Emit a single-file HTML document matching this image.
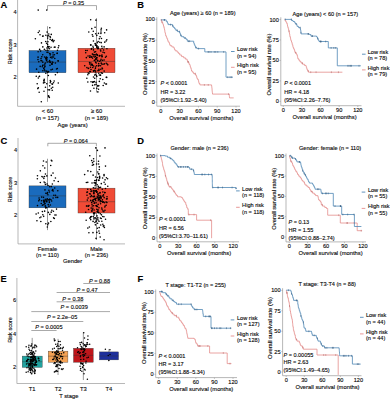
<!DOCTYPE html>
<html><head><meta charset="utf-8"><style>
html,body{margin:0;padding:0;background:#fff;}
svg{display:block;font-family:"Liberation Sans", sans-serif;}
text{stroke:#000;stroke-width:0.12px;}
</style></head><body>
<svg width="391" height="400" viewBox="0 0 391 400">
<rect width="391" height="400" fill="#fff"/>
<text x="0.60" y="7.70" font-size="9.3" text-anchor="start" font-weight="bold" fill="#000">A</text>
<line x1="17.60" y1="0.00" x2="17.60" y2="106.30" stroke="#9a9a9a" stroke-width="0.7"/>
<line x1="17.60" y1="106.30" x2="125.00" y2="106.30" stroke="#9a9a9a" stroke-width="0.7"/>
<text x="16.70" y="14.30" font-size="5.6" text-anchor="end" font-weight="normal" fill="#0a0a0a">4</text>
<line x1="16.80" y1="11.70" x2="17.60" y2="11.70" stroke="#9a9a9a" stroke-width="0.6"/>
<text x="16.70" y="46.60" font-size="5.6" text-anchor="end" font-weight="normal" fill="#0a0a0a">3</text>
<line x1="16.80" y1="44.00" x2="17.60" y2="44.00" stroke="#9a9a9a" stroke-width="0.6"/>
<text x="16.70" y="78.90" font-size="5.6" text-anchor="end" font-weight="normal" fill="#0a0a0a">2</text>
<line x1="16.80" y1="76.30" x2="17.60" y2="76.30" stroke="#9a9a9a" stroke-width="0.6"/>
<text x="12.20" y="51.50" font-size="5.5" text-anchor="middle" font-weight="normal" fill="#0a0a0a" transform="rotate(-90 12.2 51.5)">Risk score</text>
<line x1="47.50" y1="26.24" x2="47.50" y2="101.82" stroke="#333" stroke-width="0.5"/>
<rect x="29.00" y="50.46" width="37.00" height="22.29" fill="#1a6bbd" stroke="#333" stroke-width="0.35"/>
<line x1="29.00" y1="62.09" x2="66.00" y2="62.09" stroke="#333" stroke-width="0.4"/>
<line x1="96.50" y1="18.16" x2="96.50" y2="92.45" stroke="#333" stroke-width="0.5"/>
<rect x="78.00" y="48.20" width="37.00" height="24.55" fill="#f04b36" stroke="#333" stroke-width="0.35"/>
<line x1="78.00" y1="61.44" x2="115.00" y2="61.44" stroke="#333" stroke-width="0.4"/>
<circle cx="45.86" cy="35.32" r="0.8" fill="#000"/>
<circle cx="47.13" cy="32.09" r="0.8" fill="#000"/>
<circle cx="46.89" cy="59.79" r="0.8" fill="#000"/>
<circle cx="39.29" cy="76.43" r="0.8" fill="#000"/>
<circle cx="58.27" cy="82.99" r="0.8" fill="#000"/>
<circle cx="49.61" cy="60.49" r="0.8" fill="#000"/>
<circle cx="50.69" cy="81.59" r="0.8" fill="#000"/>
<circle cx="49.54" cy="89.89" r="0.8" fill="#000"/>
<circle cx="38.06" cy="57.13" r="0.8" fill="#000"/>
<circle cx="46.44" cy="58.45" r="0.8" fill="#000"/>
<circle cx="57.48" cy="50.18" r="0.8" fill="#000"/>
<circle cx="44.20" cy="79.42" r="0.8" fill="#000"/>
<circle cx="58.25" cy="61.02" r="0.8" fill="#000"/>
<circle cx="50.22" cy="62.42" r="0.8" fill="#000"/>
<circle cx="43.99" cy="91.27" r="0.8" fill="#000"/>
<circle cx="45.97" cy="50.35" r="0.8" fill="#000"/>
<circle cx="42.74" cy="54.70" r="0.8" fill="#000"/>
<circle cx="44.57" cy="57.05" r="0.8" fill="#000"/>
<circle cx="44.89" cy="64.02" r="0.8" fill="#000"/>
<circle cx="50.02" cy="36.43" r="0.8" fill="#000"/>
<circle cx="46.45" cy="57.14" r="0.8" fill="#000"/>
<circle cx="41.48" cy="42.91" r="0.8" fill="#000"/>
<circle cx="57.33" cy="68.44" r="0.8" fill="#000"/>
<circle cx="41.78" cy="56.75" r="0.8" fill="#000"/>
<circle cx="54.04" cy="40.61" r="0.8" fill="#000"/>
<circle cx="51.03" cy="47.18" r="0.8" fill="#000"/>
<circle cx="54.77" cy="58.55" r="0.8" fill="#000"/>
<circle cx="53.50" cy="82.79" r="0.8" fill="#000"/>
<circle cx="46.99" cy="52.20" r="0.8" fill="#000"/>
<circle cx="37.98" cy="59.58" r="0.8" fill="#000"/>
<circle cx="49.08" cy="46.69" r="0.8" fill="#000"/>
<circle cx="52.09" cy="56.79" r="0.8" fill="#000"/>
<circle cx="50.17" cy="39.33" r="0.8" fill="#000"/>
<circle cx="42.79" cy="62.15" r="0.8" fill="#000"/>
<circle cx="53.52" cy="57.07" r="0.8" fill="#000"/>
<circle cx="58.25" cy="47.77" r="0.8" fill="#000"/>
<circle cx="43.50" cy="82.88" r="0.8" fill="#000"/>
<circle cx="36.56" cy="69.16" r="0.8" fill="#000"/>
<circle cx="46.73" cy="71.13" r="0.8" fill="#000"/>
<circle cx="55.38" cy="62.98" r="0.8" fill="#000"/>
<circle cx="46.94" cy="48.06" r="0.8" fill="#000"/>
<circle cx="49.54" cy="48.72" r="0.8" fill="#000"/>
<circle cx="44.88" cy="66.74" r="0.8" fill="#000"/>
<circle cx="39.18" cy="92.18" r="0.8" fill="#000"/>
<circle cx="53.31" cy="41.80" r="0.8" fill="#000"/>
<circle cx="52.39" cy="69.27" r="0.8" fill="#000"/>
<circle cx="48.32" cy="46.74" r="0.8" fill="#000"/>
<circle cx="45.46" cy="87.26" r="0.8" fill="#000"/>
<circle cx="44.46" cy="69.89" r="0.8" fill="#000"/>
<circle cx="47.50" cy="35.95" r="0.8" fill="#000"/>
<circle cx="38.30" cy="32.46" r="0.8" fill="#000"/>
<circle cx="52.73" cy="87.20" r="0.8" fill="#000"/>
<circle cx="38.34" cy="87.81" r="0.8" fill="#000"/>
<circle cx="47.31" cy="62.01" r="0.8" fill="#000"/>
<circle cx="47.67" cy="46.54" r="0.8" fill="#000"/>
<circle cx="51.95" cy="57.90" r="0.8" fill="#000"/>
<circle cx="50.10" cy="55.04" r="0.8" fill="#000"/>
<circle cx="44.06" cy="80.92" r="0.8" fill="#000"/>
<circle cx="44.33" cy="49.37" r="0.8" fill="#000"/>
<circle cx="35.37" cy="38.75" r="0.8" fill="#000"/>
<circle cx="51.05" cy="69.84" r="0.8" fill="#000"/>
<circle cx="48.09" cy="89.83" r="0.8" fill="#000"/>
<circle cx="39.53" cy="76.32" r="0.8" fill="#000"/>
<circle cx="58.78" cy="45.87" r="0.8" fill="#000"/>
<circle cx="48.54" cy="95.84" r="0.8" fill="#000"/>
<circle cx="45.37" cy="62.96" r="0.8" fill="#000"/>
<circle cx="54.18" cy="80.96" r="0.8" fill="#000"/>
<circle cx="51.97" cy="63.75" r="0.8" fill="#000"/>
<circle cx="44.95" cy="66.02" r="0.8" fill="#000"/>
<circle cx="41.80" cy="60.80" r="0.8" fill="#000"/>
<circle cx="39.35" cy="31.06" r="0.8" fill="#000"/>
<circle cx="53.01" cy="52.69" r="0.8" fill="#000"/>
<circle cx="51.27" cy="34.41" r="0.8" fill="#000"/>
<circle cx="51.73" cy="63.95" r="0.8" fill="#000"/>
<circle cx="42.83" cy="70.72" r="0.8" fill="#000"/>
<circle cx="49.59" cy="53.53" r="0.8" fill="#000"/>
<circle cx="50.01" cy="61.92" r="0.8" fill="#000"/>
<circle cx="45.95" cy="57.91" r="0.8" fill="#000"/>
<circle cx="49.73" cy="85.86" r="0.8" fill="#000"/>
<circle cx="38.12" cy="51.82" r="0.8" fill="#000"/>
<circle cx="38.77" cy="72.32" r="0.8" fill="#000"/>
<circle cx="42.67" cy="65.39" r="0.8" fill="#000"/>
<circle cx="43.80" cy="80.72" r="0.8" fill="#000"/>
<circle cx="48.56" cy="71.54" r="0.8" fill="#000"/>
<circle cx="52.05" cy="64.17" r="0.8" fill="#000"/>
<circle cx="43.10" cy="36.07" r="0.8" fill="#000"/>
<circle cx="45.87" cy="59.05" r="0.8" fill="#000"/>
<circle cx="49.06" cy="61.69" r="0.8" fill="#000"/>
<circle cx="57.22" cy="53.33" r="0.8" fill="#000"/>
<circle cx="49.31" cy="97.41" r="0.8" fill="#000"/>
<circle cx="42.66" cy="36.28" r="0.8" fill="#000"/>
<circle cx="50.22" cy="82.69" r="0.8" fill="#000"/>
<circle cx="47.95" cy="52.33" r="0.8" fill="#000"/>
<circle cx="46.76" cy="83.68" r="0.8" fill="#000"/>
<circle cx="50.30" cy="80.67" r="0.8" fill="#000"/>
<circle cx="56.58" cy="69.06" r="0.8" fill="#000"/>
<circle cx="55.00" cy="47.15" r="0.8" fill="#000"/>
<circle cx="45.81" cy="73.22" r="0.8" fill="#000"/>
<circle cx="42.27" cy="66.81" r="0.8" fill="#000"/>
<circle cx="52.39" cy="84.18" r="0.8" fill="#000"/>
<circle cx="38.78" cy="61.80" r="0.8" fill="#000"/>
<circle cx="57.36" cy="72.60" r="0.8" fill="#000"/>
<circle cx="48.66" cy="46.66" r="0.8" fill="#000"/>
<circle cx="51.39" cy="88.30" r="0.8" fill="#000"/>
<circle cx="44.11" cy="67.82" r="0.8" fill="#000"/>
<circle cx="38.33" cy="77.98" r="0.8" fill="#000"/>
<circle cx="48.31" cy="75.51" r="0.8" fill="#000"/>
<circle cx="42.81" cy="46.88" r="0.8" fill="#000"/>
<circle cx="41.03" cy="58.59" r="0.8" fill="#000"/>
<circle cx="39.64" cy="49.40" r="0.8" fill="#000"/>
<circle cx="50.40" cy="37.31" r="0.8" fill="#000"/>
<circle cx="47.67" cy="38.10" r="0.8" fill="#000"/>
<circle cx="37.81" cy="88.59" r="0.8" fill="#000"/>
<circle cx="47.88" cy="50.37" r="0.8" fill="#000"/>
<circle cx="48.61" cy="96.39" r="0.8" fill="#000"/>
<circle cx="52.84" cy="62.40" r="0.8" fill="#000"/>
<circle cx="44.10" cy="65.00" r="0.8" fill="#000"/>
<circle cx="43.72" cy="68.51" r="0.8" fill="#000"/>
<circle cx="47.15" cy="57.71" r="0.8" fill="#000"/>
<circle cx="58.03" cy="60.76" r="0.8" fill="#000"/>
<circle cx="46.50" cy="60.59" r="0.8" fill="#000"/>
<circle cx="36.26" cy="76.28" r="0.8" fill="#000"/>
<circle cx="52.47" cy="39.46" r="0.8" fill="#000"/>
<circle cx="46.55" cy="43.31" r="0.8" fill="#000"/>
<circle cx="49.99" cy="65.37" r="0.8" fill="#000"/>
<circle cx="54.42" cy="54.82" r="0.8" fill="#000"/>
<circle cx="48.43" cy="47.93" r="0.8" fill="#000"/>
<circle cx="51.73" cy="40.45" r="0.8" fill="#000"/>
<circle cx="57.12" cy="53.25" r="0.8" fill="#000"/>
<circle cx="54.29" cy="47.20" r="0.8" fill="#000"/>
<circle cx="40.18" cy="66.39" r="0.8" fill="#000"/>
<circle cx="44.78" cy="82.53" r="0.8" fill="#000"/>
<circle cx="45.07" cy="71.04" r="0.8" fill="#000"/>
<circle cx="52.59" cy="40.71" r="0.8" fill="#000"/>
<circle cx="45.75" cy="41.54" r="0.8" fill="#000"/>
<circle cx="46.16" cy="58.19" r="0.8" fill="#000"/>
<circle cx="47.78" cy="72.48" r="0.8" fill="#000"/>
<circle cx="53.07" cy="54.96" r="0.8" fill="#000"/>
<circle cx="49.80" cy="27.81" r="0.8" fill="#000"/>
<circle cx="48.76" cy="33.99" r="0.8" fill="#000"/>
<circle cx="55.39" cy="74.81" r="0.8" fill="#000"/>
<circle cx="52.10" cy="61.99" r="0.8" fill="#000"/>
<circle cx="52.22" cy="90.19" r="0.8" fill="#000"/>
<circle cx="52.02" cy="83.86" r="0.8" fill="#000"/>
<circle cx="50.51" cy="57.35" r="0.8" fill="#000"/>
<circle cx="40.99" cy="60.62" r="0.8" fill="#000"/>
<circle cx="47.95" cy="41.80" r="0.8" fill="#000"/>
<circle cx="48.50" cy="35.73" r="0.8" fill="#000"/>
<circle cx="47.61" cy="44.40" r="0.8" fill="#000"/>
<circle cx="40.01" cy="34.69" r="0.8" fill="#000"/>
<circle cx="47.47" cy="72.07" r="0.8" fill="#000"/>
<circle cx="37.20" cy="83.73" r="0.8" fill="#000"/>
<circle cx="40.60" cy="51.10" r="0.8" fill="#000"/>
<circle cx="50.48" cy="53.97" r="0.8" fill="#000"/>
<circle cx="38.20" cy="10.09" r="0.8" fill="#000"/>
<circle cx="46.80" cy="10.09" r="0.8" fill="#000"/>
<circle cx="41.30" cy="101.82" r="0.8" fill="#000"/>
<circle cx="88.93" cy="73.42" r="0.8" fill="#000"/>
<circle cx="103.05" cy="52.24" r="0.8" fill="#000"/>
<circle cx="89.69" cy="57.22" r="0.8" fill="#000"/>
<circle cx="95.18" cy="43.43" r="0.8" fill="#000"/>
<circle cx="93.91" cy="88.23" r="0.8" fill="#000"/>
<circle cx="88.30" cy="68.46" r="0.8" fill="#000"/>
<circle cx="100.44" cy="75.20" r="0.8" fill="#000"/>
<circle cx="94.35" cy="81.67" r="0.8" fill="#000"/>
<circle cx="93.48" cy="77.05" r="0.8" fill="#000"/>
<circle cx="94.65" cy="70.41" r="0.8" fill="#000"/>
<circle cx="98.40" cy="65.89" r="0.8" fill="#000"/>
<circle cx="86.84" cy="78.31" r="0.8" fill="#000"/>
<circle cx="95.61" cy="51.70" r="0.8" fill="#000"/>
<circle cx="104.17" cy="71.11" r="0.8" fill="#000"/>
<circle cx="92.89" cy="36.31" r="0.8" fill="#000"/>
<circle cx="102.07" cy="68.00" r="0.8" fill="#000"/>
<circle cx="99.33" cy="75.04" r="0.8" fill="#000"/>
<circle cx="94.13" cy="54.78" r="0.8" fill="#000"/>
<circle cx="97.36" cy="55.55" r="0.8" fill="#000"/>
<circle cx="96.55" cy="59.09" r="0.8" fill="#000"/>
<circle cx="106.19" cy="77.26" r="0.8" fill="#000"/>
<circle cx="106.31" cy="56.31" r="0.8" fill="#000"/>
<circle cx="90.48" cy="90.94" r="0.8" fill="#000"/>
<circle cx="93.28" cy="31.24" r="0.8" fill="#000"/>
<circle cx="97.86" cy="85.49" r="0.8" fill="#000"/>
<circle cx="102.94" cy="64.29" r="0.8" fill="#000"/>
<circle cx="95.40" cy="59.77" r="0.8" fill="#000"/>
<circle cx="101.02" cy="55.77" r="0.8" fill="#000"/>
<circle cx="90.92" cy="65.09" r="0.8" fill="#000"/>
<circle cx="85.68" cy="50.48" r="0.8" fill="#000"/>
<circle cx="107.79" cy="64.83" r="0.8" fill="#000"/>
<circle cx="93.65" cy="65.95" r="0.8" fill="#000"/>
<circle cx="90.47" cy="71.44" r="0.8" fill="#000"/>
<circle cx="100.99" cy="32.10" r="0.8" fill="#000"/>
<circle cx="96.03" cy="82.31" r="0.8" fill="#000"/>
<circle cx="92.07" cy="64.42" r="0.8" fill="#000"/>
<circle cx="105.51" cy="57.29" r="0.8" fill="#000"/>
<circle cx="91.55" cy="48.62" r="0.8" fill="#000"/>
<circle cx="96.15" cy="62.97" r="0.8" fill="#000"/>
<circle cx="101.04" cy="59.35" r="0.8" fill="#000"/>
<circle cx="97.87" cy="91.88" r="0.8" fill="#000"/>
<circle cx="106.44" cy="84.05" r="0.8" fill="#000"/>
<circle cx="92.90" cy="54.24" r="0.8" fill="#000"/>
<circle cx="89.74" cy="57.29" r="0.8" fill="#000"/>
<circle cx="102.59" cy="60.35" r="0.8" fill="#000"/>
<circle cx="92.55" cy="85.35" r="0.8" fill="#000"/>
<circle cx="95.06" cy="27.21" r="0.8" fill="#000"/>
<circle cx="104.77" cy="42.16" r="0.8" fill="#000"/>
<circle cx="98.77" cy="73.27" r="0.8" fill="#000"/>
<circle cx="100.24" cy="78.74" r="0.8" fill="#000"/>
<circle cx="101.66" cy="63.94" r="0.8" fill="#000"/>
<circle cx="104.34" cy="82.96" r="0.8" fill="#000"/>
<circle cx="94.54" cy="57.02" r="0.8" fill="#000"/>
<circle cx="97.39" cy="42.68" r="0.8" fill="#000"/>
<circle cx="104.32" cy="63.91" r="0.8" fill="#000"/>
<circle cx="89.81" cy="71.62" r="0.8" fill="#000"/>
<circle cx="104.10" cy="46.90" r="0.8" fill="#000"/>
<circle cx="102.45" cy="68.80" r="0.8" fill="#000"/>
<circle cx="95.99" cy="45.52" r="0.8" fill="#000"/>
<circle cx="100.79" cy="69.26" r="0.8" fill="#000"/>
<circle cx="106.59" cy="29.92" r="0.8" fill="#000"/>
<circle cx="95.43" cy="68.45" r="0.8" fill="#000"/>
<circle cx="96.07" cy="84.33" r="0.8" fill="#000"/>
<circle cx="100.72" cy="60.80" r="0.8" fill="#000"/>
<circle cx="96.44" cy="75.63" r="0.8" fill="#000"/>
<circle cx="93.31" cy="81.86" r="0.8" fill="#000"/>
<circle cx="92.52" cy="65.33" r="0.8" fill="#000"/>
<circle cx="96.92" cy="47.50" r="0.8" fill="#000"/>
<circle cx="98.69" cy="63.64" r="0.8" fill="#000"/>
<circle cx="84.70" cy="65.82" r="0.8" fill="#000"/>
<circle cx="100.62" cy="65.69" r="0.8" fill="#000"/>
<circle cx="101.78" cy="46.36" r="0.8" fill="#000"/>
<circle cx="98.54" cy="89.27" r="0.8" fill="#000"/>
<circle cx="91.41" cy="49.23" r="0.8" fill="#000"/>
<circle cx="90.50" cy="67.31" r="0.8" fill="#000"/>
<circle cx="94.38" cy="60.38" r="0.8" fill="#000"/>
<circle cx="95.53" cy="67.12" r="0.8" fill="#000"/>
<circle cx="98.91" cy="69.31" r="0.8" fill="#000"/>
<circle cx="102.41" cy="73.26" r="0.8" fill="#000"/>
<circle cx="96.49" cy="54.17" r="0.8" fill="#000"/>
<circle cx="90.68" cy="19.71" r="0.8" fill="#000"/>
<circle cx="93.43" cy="41.03" r="0.8" fill="#000"/>
<circle cx="90.98" cy="45.08" r="0.8" fill="#000"/>
<circle cx="100.76" cy="51.03" r="0.8" fill="#000"/>
<circle cx="95.48" cy="72.07" r="0.8" fill="#000"/>
<circle cx="100.50" cy="50.00" r="0.8" fill="#000"/>
<circle cx="95.96" cy="20.13" r="0.8" fill="#000"/>
<circle cx="96.79" cy="88.31" r="0.8" fill="#000"/>
<circle cx="96.39" cy="45.34" r="0.8" fill="#000"/>
<circle cx="98.14" cy="41.53" r="0.8" fill="#000"/>
<circle cx="102.15" cy="56.37" r="0.8" fill="#000"/>
<circle cx="97.09" cy="46.04" r="0.8" fill="#000"/>
<circle cx="95.65" cy="33.75" r="0.8" fill="#000"/>
<circle cx="96.81" cy="35.37" r="0.8" fill="#000"/>
<circle cx="101.37" cy="28.18" r="0.8" fill="#000"/>
<circle cx="101.95" cy="55.02" r="0.8" fill="#000"/>
<circle cx="90.64" cy="44.90" r="0.8" fill="#000"/>
<circle cx="92.54" cy="58.11" r="0.8" fill="#000"/>
<circle cx="99.50" cy="55.61" r="0.8" fill="#000"/>
<circle cx="95.61" cy="70.94" r="0.8" fill="#000"/>
<circle cx="93.23" cy="47.73" r="0.8" fill="#000"/>
<circle cx="88.78" cy="32.06" r="0.8" fill="#000"/>
<circle cx="91.70" cy="64.63" r="0.8" fill="#000"/>
<circle cx="93.10" cy="56.23" r="0.8" fill="#000"/>
<circle cx="106.93" cy="48.70" r="0.8" fill="#000"/>
<circle cx="97.54" cy="60.87" r="0.8" fill="#000"/>
<circle cx="99.77" cy="42.23" r="0.8" fill="#000"/>
<circle cx="88.04" cy="55.99" r="0.8" fill="#000"/>
<circle cx="94.81" cy="84.86" r="0.8" fill="#000"/>
<circle cx="93.05" cy="82.00" r="0.8" fill="#000"/>
<circle cx="96.86" cy="46.38" r="0.8" fill="#000"/>
<circle cx="102.14" cy="48.30" r="0.8" fill="#000"/>
<circle cx="99.36" cy="38.71" r="0.8" fill="#000"/>
<circle cx="99.32" cy="55.95" r="0.8" fill="#000"/>
<circle cx="101.97" cy="56.86" r="0.8" fill="#000"/>
<circle cx="104.66" cy="32.70" r="0.8" fill="#000"/>
<circle cx="102.80" cy="79.56" r="0.8" fill="#000"/>
<circle cx="106.78" cy="39.83" r="0.8" fill="#000"/>
<circle cx="105.86" cy="83.96" r="0.8" fill="#000"/>
<circle cx="95.40" cy="74.26" r="0.8" fill="#000"/>
<circle cx="96.99" cy="57.71" r="0.8" fill="#000"/>
<circle cx="91.01" cy="69.43" r="0.8" fill="#000"/>
<circle cx="100.48" cy="74.94" r="0.8" fill="#000"/>
<circle cx="101.23" cy="42.66" r="0.8" fill="#000"/>
<circle cx="98.38" cy="47.10" r="0.8" fill="#000"/>
<circle cx="85.71" cy="52.76" r="0.8" fill="#000"/>
<circle cx="92.80" cy="67.56" r="0.8" fill="#000"/>
<circle cx="106.73" cy="77.38" r="0.8" fill="#000"/>
<circle cx="99.03" cy="70.33" r="0.8" fill="#000"/>
<circle cx="93.68" cy="71.26" r="0.8" fill="#000"/>
<circle cx="99.35" cy="61.19" r="0.8" fill="#000"/>
<circle cx="95.51" cy="45.13" r="0.8" fill="#000"/>
<circle cx="89.69" cy="64.03" r="0.8" fill="#000"/>
<circle cx="96.77" cy="76.57" r="0.8" fill="#000"/>
<circle cx="88.15" cy="73.07" r="0.8" fill="#000"/>
<circle cx="92.30" cy="34.73" r="0.8" fill="#000"/>
<circle cx="91.30" cy="57.26" r="0.8" fill="#000"/>
<circle cx="89.94" cy="55.80" r="0.8" fill="#000"/>
<circle cx="95.82" cy="54.86" r="0.8" fill="#000"/>
<circle cx="98.30" cy="48.54" r="0.8" fill="#000"/>
<circle cx="86.36" cy="57.67" r="0.8" fill="#000"/>
<circle cx="100.08" cy="36.72" r="0.8" fill="#000"/>
<circle cx="95.37" cy="44.04" r="0.8" fill="#000"/>
<circle cx="101.20" cy="63.13" r="0.8" fill="#000"/>
<circle cx="97.86" cy="86.14" r="0.8" fill="#000"/>
<circle cx="96.56" cy="57.76" r="0.8" fill="#000"/>
<circle cx="101.48" cy="38.56" r="0.8" fill="#000"/>
<circle cx="97.69" cy="60.28" r="0.8" fill="#000"/>
<circle cx="98.47" cy="33.36" r="0.8" fill="#000"/>
<circle cx="98.87" cy="85.70" r="0.8" fill="#000"/>
<circle cx="103.19" cy="85.43" r="0.8" fill="#000"/>
<circle cx="107.10" cy="64.03" r="0.8" fill="#000"/>
<circle cx="94.79" cy="75.08" r="0.8" fill="#000"/>
<circle cx="91.02" cy="81.82" r="0.8" fill="#000"/>
<circle cx="97.82" cy="48.77" r="0.8" fill="#000"/>
<circle cx="97.34" cy="54.77" r="0.8" fill="#000"/>
<circle cx="104.10" cy="59.99" r="0.8" fill="#000"/>
<circle cx="88.62" cy="68.32" r="0.8" fill="#000"/>
<circle cx="94.03" cy="54.87" r="0.8" fill="#000"/>
<circle cx="89.56" cy="62.59" r="0.8" fill="#000"/>
<circle cx="87.82" cy="74.82" r="0.8" fill="#000"/>
<circle cx="93.46" cy="49.88" r="0.8" fill="#000"/>
<circle cx="104.43" cy="52.71" r="0.8" fill="#000"/>
<circle cx="95.84" cy="58.53" r="0.8" fill="#000"/>
<circle cx="92.96" cy="46.22" r="0.8" fill="#000"/>
<circle cx="92.64" cy="82.34" r="0.8" fill="#000"/>
<circle cx="90.91" cy="63.06" r="0.8" fill="#000"/>
<circle cx="98.01" cy="70.67" r="0.8" fill="#000"/>
<circle cx="100.91" cy="33.45" r="0.8" fill="#000"/>
<circle cx="103.62" cy="49.96" r="0.8" fill="#000"/>
<circle cx="91.80" cy="28.66" r="0.8" fill="#000"/>
<circle cx="86.90" cy="67.58" r="0.8" fill="#000"/>
<circle cx="87.82" cy="82.07" r="0.8" fill="#000"/>
<circle cx="87.16" cy="50.46" r="0.8" fill="#000"/>
<circle cx="96.52" cy="65.82" r="0.8" fill="#000"/>
<circle cx="106.24" cy="63.32" r="0.8" fill="#000"/>
<circle cx="99.37" cy="81.42" r="0.8" fill="#000"/>
<circle cx="97.52" cy="48.11" r="0.8" fill="#000"/>
<circle cx="95.52" cy="56.43" r="0.8" fill="#000"/>
<circle cx="94.42" cy="52.08" r="0.8" fill="#000"/>
<circle cx="92.35" cy="53.94" r="0.8" fill="#000"/>
<circle cx="94.69" cy="78.24" r="0.8" fill="#000"/>
<circle cx="99.00" cy="65.59" r="0.8" fill="#000"/>
<circle cx="101.28" cy="72.88" r="0.8" fill="#000"/>
<circle cx="93.40" cy="70.75" r="0.8" fill="#000"/>
<circle cx="106.11" cy="40.93" r="0.8" fill="#000"/>
<circle cx="95.63" cy="62.15" r="0.8" fill="#000"/>
<circle cx="101.06" cy="29.92" r="0.8" fill="#000"/>
<circle cx="91.17" cy="56.51" r="0.8" fill="#000"/>
<line x1="47.50" y1="5.60" x2="96.50" y2="5.60" stroke="#555" stroke-width="0.5"/>
<line x1="47.50" y1="5.60" x2="47.50" y2="10.00" stroke="#555" stroke-width="0.5"/>
<line x1="96.50" y1="5.60" x2="96.50" y2="10.00" stroke="#555" stroke-width="0.5"/>
<text x="73.50" y="5.00" font-size="5.6" text-anchor="middle" font-weight="normal" fill="#0a0a0a"><tspan font-style="italic">P</tspan> = 0.35</text>
<text x="47.50" y="112.80" font-size="5.8" text-anchor="middle" font-weight="normal" fill="#0a0a0a">&lt; 60</text>
<text x="47.50" y="119.50" font-size="5.8" text-anchor="middle" font-weight="normal" fill="#0a0a0a">(n = 157)</text>
<text x="96.50" y="112.80" font-size="5.8" text-anchor="middle" font-weight="normal" fill="#0a0a0a">≥ 60</text>
<text x="96.50" y="119.50" font-size="5.8" text-anchor="middle" font-weight="normal" fill="#0a0a0a">(n = 189)</text>
<text x="72.60" y="126.50" font-size="5.8" text-anchor="middle" font-weight="normal" fill="#0a0a0a">Age (years)</text>
<text x="0.60" y="144.30" font-size="9.3" text-anchor="start" font-weight="bold" fill="#000">C</text>
<line x1="18.00" y1="138.00" x2="18.00" y2="243.90" stroke="#9a9a9a" stroke-width="0.7"/>
<line x1="18.00" y1="243.90" x2="125.00" y2="243.90" stroke="#9a9a9a" stroke-width="0.7"/>
<text x="17.10" y="152.30" font-size="5.6" text-anchor="end" font-weight="normal" fill="#0a0a0a">4</text>
<line x1="17.20" y1="149.70" x2="18.00" y2="149.70" stroke="#9a9a9a" stroke-width="0.6"/>
<text x="17.10" y="184.60" font-size="5.6" text-anchor="end" font-weight="normal" fill="#0a0a0a">3</text>
<line x1="17.20" y1="182.00" x2="18.00" y2="182.00" stroke="#9a9a9a" stroke-width="0.6"/>
<text x="17.10" y="216.90" font-size="5.6" text-anchor="end" font-weight="normal" fill="#0a0a0a">2</text>
<line x1="17.20" y1="214.30" x2="18.00" y2="214.30" stroke="#9a9a9a" stroke-width="0.6"/>
<text x="12.20" y="189.50" font-size="5.5" text-anchor="middle" font-weight="normal" fill="#0a0a0a" transform="rotate(-90 12.2 189.5)">Risk score</text>
<line x1="47.50" y1="158.74" x2="47.50" y2="230.13" stroke="#333" stroke-width="0.5"/>
<rect x="29.00" y="185.88" width="37.00" height="21.96" fill="#1a6bbd" stroke="#333" stroke-width="0.35"/>
<line x1="29.00" y1="195.89" x2="66.00" y2="195.89" stroke="#333" stroke-width="0.4"/>
<line x1="96.50" y1="147.12" x2="96.50" y2="239.82" stroke="#333" stroke-width="0.5"/>
<rect x="78.00" y="188.14" width="37.00" height="24.87" fill="#f04b36" stroke="#333" stroke-width="0.35"/>
<line x1="78.00" y1="201.70" x2="115.00" y2="201.70" stroke="#333" stroke-width="0.4"/>
<circle cx="47.90" cy="194.76" r="0.8" fill="#000"/>
<circle cx="53.02" cy="173.12" r="0.8" fill="#000"/>
<circle cx="36.13" cy="213.98" r="0.8" fill="#000"/>
<circle cx="55.43" cy="177.94" r="0.8" fill="#000"/>
<circle cx="43.87" cy="201.39" r="0.8" fill="#000"/>
<circle cx="46.42" cy="201.43" r="0.8" fill="#000"/>
<circle cx="43.49" cy="160.95" r="0.8" fill="#000"/>
<circle cx="47.06" cy="193.58" r="0.8" fill="#000"/>
<circle cx="43.50" cy="197.34" r="0.8" fill="#000"/>
<circle cx="45.01" cy="182.87" r="0.8" fill="#000"/>
<circle cx="51.27" cy="175.42" r="0.8" fill="#000"/>
<circle cx="41.70" cy="197.11" r="0.8" fill="#000"/>
<circle cx="48.03" cy="185.52" r="0.8" fill="#000"/>
<circle cx="42.82" cy="214.78" r="0.8" fill="#000"/>
<circle cx="45.02" cy="203.41" r="0.8" fill="#000"/>
<circle cx="43.23" cy="204.74" r="0.8" fill="#000"/>
<circle cx="50.87" cy="221.49" r="0.8" fill="#000"/>
<circle cx="47.81" cy="224.80" r="0.8" fill="#000"/>
<circle cx="47.34" cy="227.01" r="0.8" fill="#000"/>
<circle cx="51.67" cy="201.01" r="0.8" fill="#000"/>
<circle cx="39.39" cy="199.77" r="0.8" fill="#000"/>
<circle cx="44.03" cy="202.54" r="0.8" fill="#000"/>
<circle cx="55.50" cy="195.24" r="0.8" fill="#000"/>
<circle cx="40.83" cy="221.56" r="0.8" fill="#000"/>
<circle cx="53.07" cy="198.02" r="0.8" fill="#000"/>
<circle cx="49.38" cy="192.07" r="0.8" fill="#000"/>
<circle cx="40.33" cy="182.46" r="0.8" fill="#000"/>
<circle cx="48.31" cy="212.39" r="0.8" fill="#000"/>
<circle cx="44.56" cy="204.03" r="0.8" fill="#000"/>
<circle cx="45.38" cy="205.97" r="0.8" fill="#000"/>
<circle cx="48.45" cy="223.13" r="0.8" fill="#000"/>
<circle cx="46.85" cy="175.90" r="0.8" fill="#000"/>
<circle cx="58.25" cy="181.57" r="0.8" fill="#000"/>
<circle cx="52.27" cy="190.39" r="0.8" fill="#000"/>
<circle cx="49.35" cy="202.39" r="0.8" fill="#000"/>
<circle cx="54.72" cy="187.93" r="0.8" fill="#000"/>
<circle cx="49.76" cy="186.65" r="0.8" fill="#000"/>
<circle cx="42.91" cy="176.95" r="0.8" fill="#000"/>
<circle cx="38.76" cy="200.85" r="0.8" fill="#000"/>
<circle cx="45.96" cy="207.63" r="0.8" fill="#000"/>
<circle cx="45.71" cy="207.86" r="0.8" fill="#000"/>
<circle cx="54.91" cy="215.01" r="0.8" fill="#000"/>
<circle cx="57.67" cy="197.38" r="0.8" fill="#000"/>
<circle cx="53.41" cy="211.26" r="0.8" fill="#000"/>
<circle cx="44.50" cy="176.52" r="0.8" fill="#000"/>
<circle cx="40.95" cy="217.03" r="0.8" fill="#000"/>
<circle cx="49.83" cy="214.39" r="0.8" fill="#000"/>
<circle cx="51.87" cy="160.90" r="0.8" fill="#000"/>
<circle cx="46.92" cy="201.84" r="0.8" fill="#000"/>
<circle cx="48.92" cy="206.37" r="0.8" fill="#000"/>
<circle cx="50.72" cy="165.51" r="0.8" fill="#000"/>
<circle cx="41.91" cy="176.46" r="0.8" fill="#000"/>
<circle cx="51.86" cy="210.24" r="0.8" fill="#000"/>
<circle cx="47.04" cy="199.44" r="0.8" fill="#000"/>
<circle cx="56.52" cy="209.10" r="0.8" fill="#000"/>
<circle cx="45.40" cy="184.54" r="0.8" fill="#000"/>
<circle cx="53.59" cy="217.85" r="0.8" fill="#000"/>
<circle cx="39.08" cy="198.01" r="0.8" fill="#000"/>
<circle cx="44.97" cy="189.91" r="0.8" fill="#000"/>
<circle cx="46.21" cy="162.06" r="0.8" fill="#000"/>
<circle cx="44.75" cy="167.96" r="0.8" fill="#000"/>
<circle cx="37.35" cy="178.77" r="0.8" fill="#000"/>
<circle cx="37.49" cy="205.59" r="0.8" fill="#000"/>
<circle cx="57.78" cy="190.82" r="0.8" fill="#000"/>
<circle cx="42.39" cy="205.27" r="0.8" fill="#000"/>
<circle cx="42.92" cy="165.69" r="0.8" fill="#000"/>
<circle cx="47.48" cy="192.61" r="0.8" fill="#000"/>
<circle cx="46.85" cy="200.57" r="0.8" fill="#000"/>
<circle cx="41.55" cy="200.81" r="0.8" fill="#000"/>
<circle cx="43.52" cy="200.28" r="0.8" fill="#000"/>
<circle cx="48.69" cy="199.84" r="0.8" fill="#000"/>
<circle cx="38.30" cy="213.00" r="0.8" fill="#000"/>
<circle cx="47.22" cy="198.84" r="0.8" fill="#000"/>
<circle cx="49.52" cy="199.28" r="0.8" fill="#000"/>
<circle cx="52.76" cy="189.56" r="0.8" fill="#000"/>
<circle cx="45.07" cy="200.37" r="0.8" fill="#000"/>
<circle cx="49.97" cy="199.31" r="0.8" fill="#000"/>
<circle cx="48.92" cy="190.31" r="0.8" fill="#000"/>
<circle cx="43.85" cy="178.39" r="0.8" fill="#000"/>
<circle cx="50.36" cy="204.93" r="0.8" fill="#000"/>
<circle cx="41.26" cy="203.52" r="0.8" fill="#000"/>
<circle cx="51.29" cy="160.18" r="0.8" fill="#000"/>
<circle cx="51.35" cy="186.61" r="0.8" fill="#000"/>
<circle cx="56.04" cy="215.00" r="0.8" fill="#000"/>
<circle cx="44.11" cy="182.00" r="0.8" fill="#000"/>
<circle cx="46.71" cy="207.57" r="0.8" fill="#000"/>
<circle cx="54.32" cy="218.54" r="0.8" fill="#000"/>
<circle cx="53.20" cy="190.95" r="0.8" fill="#000"/>
<circle cx="51.19" cy="212.13" r="0.8" fill="#000"/>
<circle cx="43.67" cy="216.35" r="0.8" fill="#000"/>
<circle cx="36.94" cy="220.81" r="0.8" fill="#000"/>
<circle cx="45.25" cy="206.02" r="0.8" fill="#000"/>
<circle cx="37.47" cy="175.79" r="0.8" fill="#000"/>
<circle cx="48.24" cy="204.66" r="0.8" fill="#000"/>
<circle cx="45.83" cy="223.69" r="0.8" fill="#000"/>
<circle cx="47.07" cy="184.01" r="0.8" fill="#000"/>
<circle cx="53.82" cy="195.30" r="0.8" fill="#000"/>
<circle cx="54.09" cy="180.73" r="0.8" fill="#000"/>
<circle cx="45.45" cy="174.02" r="0.8" fill="#000"/>
<circle cx="50.96" cy="199.70" r="0.8" fill="#000"/>
<circle cx="45.29" cy="199.25" r="0.8" fill="#000"/>
<circle cx="55.98" cy="197.39" r="0.8" fill="#000"/>
<circle cx="39.88" cy="217.79" r="0.8" fill="#000"/>
<circle cx="52.36" cy="184.00" r="0.8" fill="#000"/>
<circle cx="40.33" cy="170.83" r="0.8" fill="#000"/>
<circle cx="45.84" cy="193.28" r="0.8" fill="#000"/>
<circle cx="49.33" cy="200.98" r="0.8" fill="#000"/>
<circle cx="44.57" cy="201.40" r="0.8" fill="#000"/>
<circle cx="44.63" cy="211.16" r="0.8" fill="#000"/>
<circle cx="42.34" cy="211.60" r="0.8" fill="#000"/>
<circle cx="99.01" cy="199.92" r="0.8" fill="#000"/>
<circle cx="91.04" cy="191.42" r="0.8" fill="#000"/>
<circle cx="97.65" cy="209.96" r="0.8" fill="#000"/>
<circle cx="98.03" cy="193.67" r="0.8" fill="#000"/>
<circle cx="104.10" cy="182.19" r="0.8" fill="#000"/>
<circle cx="100.05" cy="192.50" r="0.8" fill="#000"/>
<circle cx="99.30" cy="169.45" r="0.8" fill="#000"/>
<circle cx="101.19" cy="218.46" r="0.8" fill="#000"/>
<circle cx="98.65" cy="199.38" r="0.8" fill="#000"/>
<circle cx="101.46" cy="214.86" r="0.8" fill="#000"/>
<circle cx="91.33" cy="216.43" r="0.8" fill="#000"/>
<circle cx="98.15" cy="204.42" r="0.8" fill="#000"/>
<circle cx="93.96" cy="196.30" r="0.8" fill="#000"/>
<circle cx="86.91" cy="192.34" r="0.8" fill="#000"/>
<circle cx="96.33" cy="190.56" r="0.8" fill="#000"/>
<circle cx="99.90" cy="156.00" r="0.8" fill="#000"/>
<circle cx="95.59" cy="183.46" r="0.8" fill="#000"/>
<circle cx="92.96" cy="232.67" r="0.8" fill="#000"/>
<circle cx="100.70" cy="196.64" r="0.8" fill="#000"/>
<circle cx="94.44" cy="213.21" r="0.8" fill="#000"/>
<circle cx="91.88" cy="211.06" r="0.8" fill="#000"/>
<circle cx="84.64" cy="174.58" r="0.8" fill="#000"/>
<circle cx="106.16" cy="205.20" r="0.8" fill="#000"/>
<circle cx="104.04" cy="239.81" r="0.8" fill="#000"/>
<circle cx="97.89" cy="194.51" r="0.8" fill="#000"/>
<circle cx="97.48" cy="206.57" r="0.8" fill="#000"/>
<circle cx="102.85" cy="224.25" r="0.8" fill="#000"/>
<circle cx="105.54" cy="219.18" r="0.8" fill="#000"/>
<circle cx="93.63" cy="213.26" r="0.8" fill="#000"/>
<circle cx="101.72" cy="201.20" r="0.8" fill="#000"/>
<circle cx="102.07" cy="209.28" r="0.8" fill="#000"/>
<circle cx="99.36" cy="199.30" r="0.8" fill="#000"/>
<circle cx="96.56" cy="163.96" r="0.8" fill="#000"/>
<circle cx="103.95" cy="216.76" r="0.8" fill="#000"/>
<circle cx="90.80" cy="216.90" r="0.8" fill="#000"/>
<circle cx="95.92" cy="205.72" r="0.8" fill="#000"/>
<circle cx="107.60" cy="178.79" r="0.8" fill="#000"/>
<circle cx="94.03" cy="214.88" r="0.8" fill="#000"/>
<circle cx="97.76" cy="172.01" r="0.8" fill="#000"/>
<circle cx="89.37" cy="226.93" r="0.8" fill="#000"/>
<circle cx="93.08" cy="221.41" r="0.8" fill="#000"/>
<circle cx="100.32" cy="201.82" r="0.8" fill="#000"/>
<circle cx="100.41" cy="218.03" r="0.8" fill="#000"/>
<circle cx="93.76" cy="213.12" r="0.8" fill="#000"/>
<circle cx="97.01" cy="191.70" r="0.8" fill="#000"/>
<circle cx="107.76" cy="186.23" r="0.8" fill="#000"/>
<circle cx="95.46" cy="198.45" r="0.8" fill="#000"/>
<circle cx="88.43" cy="206.23" r="0.8" fill="#000"/>
<circle cx="98.37" cy="173.82" r="0.8" fill="#000"/>
<circle cx="104.81" cy="192.67" r="0.8" fill="#000"/>
<circle cx="88.90" cy="205.44" r="0.8" fill="#000"/>
<circle cx="99.56" cy="176.42" r="0.8" fill="#000"/>
<circle cx="95.93" cy="218.79" r="0.8" fill="#000"/>
<circle cx="99.33" cy="197.44" r="0.8" fill="#000"/>
<circle cx="99.25" cy="187.52" r="0.8" fill="#000"/>
<circle cx="92.56" cy="200.96" r="0.8" fill="#000"/>
<circle cx="85.69" cy="212.24" r="0.8" fill="#000"/>
<circle cx="89.53" cy="193.71" r="0.8" fill="#000"/>
<circle cx="97.17" cy="211.56" r="0.8" fill="#000"/>
<circle cx="98.72" cy="212.66" r="0.8" fill="#000"/>
<circle cx="101.87" cy="221.22" r="0.8" fill="#000"/>
<circle cx="104.04" cy="174.61" r="0.8" fill="#000"/>
<circle cx="103.91" cy="211.74" r="0.8" fill="#000"/>
<circle cx="99.65" cy="177.61" r="0.8" fill="#000"/>
<circle cx="99.92" cy="193.11" r="0.8" fill="#000"/>
<circle cx="92.24" cy="205.96" r="0.8" fill="#000"/>
<circle cx="100.57" cy="187.36" r="0.8" fill="#000"/>
<circle cx="87.02" cy="195.28" r="0.8" fill="#000"/>
<circle cx="98.12" cy="198.10" r="0.8" fill="#000"/>
<circle cx="97.41" cy="228.29" r="0.8" fill="#000"/>
<circle cx="98.86" cy="199.32" r="0.8" fill="#000"/>
<circle cx="94.14" cy="182.83" r="0.8" fill="#000"/>
<circle cx="95.32" cy="190.97" r="0.8" fill="#000"/>
<circle cx="96.24" cy="180.80" r="0.8" fill="#000"/>
<circle cx="87.93" cy="170.89" r="0.8" fill="#000"/>
<circle cx="104.83" cy="192.51" r="0.8" fill="#000"/>
<circle cx="93.84" cy="161.19" r="0.8" fill="#000"/>
<circle cx="98.92" cy="231.04" r="0.8" fill="#000"/>
<circle cx="96.63" cy="205.55" r="0.8" fill="#000"/>
<circle cx="105.22" cy="184.30" r="0.8" fill="#000"/>
<circle cx="107.14" cy="198.85" r="0.8" fill="#000"/>
<circle cx="99.31" cy="166.92" r="0.8" fill="#000"/>
<circle cx="101.72" cy="208.07" r="0.8" fill="#000"/>
<circle cx="93.11" cy="175.13" r="0.8" fill="#000"/>
<circle cx="99.19" cy="227.60" r="0.8" fill="#000"/>
<circle cx="103.25" cy="226.12" r="0.8" fill="#000"/>
<circle cx="92.00" cy="204.25" r="0.8" fill="#000"/>
<circle cx="95.11" cy="188.16" r="0.8" fill="#000"/>
<circle cx="102.95" cy="210.92" r="0.8" fill="#000"/>
<circle cx="99.02" cy="197.00" r="0.8" fill="#000"/>
<circle cx="96.06" cy="238.40" r="0.8" fill="#000"/>
<circle cx="105.50" cy="166.09" r="0.8" fill="#000"/>
<circle cx="106.13" cy="202.08" r="0.8" fill="#000"/>
<circle cx="100.93" cy="198.33" r="0.8" fill="#000"/>
<circle cx="98.13" cy="189.01" r="0.8" fill="#000"/>
<circle cx="100.72" cy="197.34" r="0.8" fill="#000"/>
<circle cx="93.96" cy="196.73" r="0.8" fill="#000"/>
<circle cx="97.04" cy="219.32" r="0.8" fill="#000"/>
<circle cx="94.61" cy="203.00" r="0.8" fill="#000"/>
<circle cx="87.48" cy="191.97" r="0.8" fill="#000"/>
<circle cx="105.06" cy="179.84" r="0.8" fill="#000"/>
<circle cx="94.19" cy="203.14" r="0.8" fill="#000"/>
<circle cx="106.48" cy="198.90" r="0.8" fill="#000"/>
<circle cx="90.43" cy="193.97" r="0.8" fill="#000"/>
<circle cx="102.29" cy="189.29" r="0.8" fill="#000"/>
<circle cx="92.04" cy="196.59" r="0.8" fill="#000"/>
<circle cx="93.61" cy="205.79" r="0.8" fill="#000"/>
<circle cx="91.82" cy="210.95" r="0.8" fill="#000"/>
<circle cx="99.60" cy="178.24" r="0.8" fill="#000"/>
<circle cx="103.50" cy="194.82" r="0.8" fill="#000"/>
<circle cx="92.61" cy="200.32" r="0.8" fill="#000"/>
<circle cx="92.02" cy="183.06" r="0.8" fill="#000"/>
<circle cx="101.30" cy="183.65" r="0.8" fill="#000"/>
<circle cx="104.15" cy="197.67" r="0.8" fill="#000"/>
<circle cx="96.37" cy="221.05" r="0.8" fill="#000"/>
<circle cx="102.62" cy="177.98" r="0.8" fill="#000"/>
<circle cx="91.69" cy="202.50" r="0.8" fill="#000"/>
<circle cx="95.32" cy="199.68" r="0.8" fill="#000"/>
<circle cx="99.08" cy="180.17" r="0.8" fill="#000"/>
<circle cx="98.52" cy="180.35" r="0.8" fill="#000"/>
<circle cx="102.32" cy="195.93" r="0.8" fill="#000"/>
<circle cx="95.77" cy="200.36" r="0.8" fill="#000"/>
<circle cx="93.61" cy="158.72" r="0.8" fill="#000"/>
<circle cx="87.74" cy="189.26" r="0.8" fill="#000"/>
<circle cx="99.00" cy="221.28" r="0.8" fill="#000"/>
<circle cx="95.14" cy="185.69" r="0.8" fill="#000"/>
<circle cx="97.41" cy="197.70" r="0.8" fill="#000"/>
<circle cx="87.30" cy="200.08" r="0.8" fill="#000"/>
<circle cx="98.29" cy="187.07" r="0.8" fill="#000"/>
<circle cx="103.44" cy="196.04" r="0.8" fill="#000"/>
<circle cx="91.70" cy="160.58" r="0.8" fill="#000"/>
<circle cx="93.97" cy="196.65" r="0.8" fill="#000"/>
<circle cx="98.44" cy="195.68" r="0.8" fill="#000"/>
<circle cx="97.58" cy="177.48" r="0.8" fill="#000"/>
<circle cx="97.56" cy="212.03" r="0.8" fill="#000"/>
<circle cx="94.81" cy="180.43" r="0.8" fill="#000"/>
<circle cx="103.54" cy="201.94" r="0.8" fill="#000"/>
<circle cx="95.54" cy="177.03" r="0.8" fill="#000"/>
<circle cx="95.23" cy="217.74" r="0.8" fill="#000"/>
<circle cx="93.94" cy="192.33" r="0.8" fill="#000"/>
<circle cx="88.90" cy="232.74" r="0.8" fill="#000"/>
<circle cx="88.55" cy="209.57" r="0.8" fill="#000"/>
<circle cx="100.36" cy="200.42" r="0.8" fill="#000"/>
<circle cx="96.14" cy="190.83" r="0.8" fill="#000"/>
<circle cx="98.51" cy="161.21" r="0.8" fill="#000"/>
<circle cx="98.62" cy="163.94" r="0.8" fill="#000"/>
<circle cx="104.38" cy="227.55" r="0.8" fill="#000"/>
<circle cx="96.95" cy="215.90" r="0.8" fill="#000"/>
<circle cx="104.04" cy="175.67" r="0.8" fill="#000"/>
<circle cx="102.84" cy="191.94" r="0.8" fill="#000"/>
<circle cx="87.87" cy="228.08" r="0.8" fill="#000"/>
<circle cx="91.75" cy="191.01" r="0.8" fill="#000"/>
<circle cx="97.58" cy="223.27" r="0.8" fill="#000"/>
<circle cx="97.81" cy="217.91" r="0.8" fill="#000"/>
<circle cx="103.90" cy="225.91" r="0.8" fill="#000"/>
<circle cx="86.47" cy="205.93" r="0.8" fill="#000"/>
<circle cx="89.77" cy="155.71" r="0.8" fill="#000"/>
<circle cx="93.63" cy="193.16" r="0.8" fill="#000"/>
<circle cx="96.11" cy="202.87" r="0.8" fill="#000"/>
<circle cx="97.39" cy="150.41" r="0.8" fill="#000"/>
<circle cx="98.17" cy="209.98" r="0.8" fill="#000"/>
<circle cx="100.59" cy="203.70" r="0.8" fill="#000"/>
<circle cx="87.07" cy="206.00" r="0.8" fill="#000"/>
<circle cx="96.71" cy="192.31" r="0.8" fill="#000"/>
<circle cx="104.80" cy="206.94" r="0.8" fill="#000"/>
<circle cx="90.78" cy="171.61" r="0.8" fill="#000"/>
<circle cx="96.82" cy="206.57" r="0.8" fill="#000"/>
<circle cx="90.70" cy="189.48" r="0.8" fill="#000"/>
<circle cx="94.51" cy="196.24" r="0.8" fill="#000"/>
<circle cx="94.05" cy="217.90" r="0.8" fill="#000"/>
<circle cx="86.16" cy="220.25" r="0.8" fill="#000"/>
<circle cx="102.90" cy="201.74" r="0.8" fill="#000"/>
<circle cx="90.71" cy="200.42" r="0.8" fill="#000"/>
<circle cx="94.69" cy="199.14" r="0.8" fill="#000"/>
<circle cx="101.17" cy="197.86" r="0.8" fill="#000"/>
<circle cx="102.71" cy="202.26" r="0.8" fill="#000"/>
<circle cx="93.97" cy="193.64" r="0.8" fill="#000"/>
<circle cx="98.97" cy="207.70" r="0.8" fill="#000"/>
<circle cx="93.37" cy="187.87" r="0.8" fill="#000"/>
<circle cx="99.44" cy="233.29" r="0.8" fill="#000"/>
<circle cx="86.34" cy="182.50" r="0.8" fill="#000"/>
<circle cx="89.91" cy="218.32" r="0.8" fill="#000"/>
<circle cx="93.39" cy="191.01" r="0.8" fill="#000"/>
<circle cx="94.08" cy="210.01" r="0.8" fill="#000"/>
<circle cx="96.76" cy="209.23" r="0.8" fill="#000"/>
<circle cx="102.74" cy="216.54" r="0.8" fill="#000"/>
<circle cx="98.91" cy="173.90" r="0.8" fill="#000"/>
<circle cx="94.92" cy="222.44" r="0.8" fill="#000"/>
<circle cx="95.38" cy="224.83" r="0.8" fill="#000"/>
<circle cx="97.24" cy="196.37" r="0.8" fill="#000"/>
<circle cx="91.42" cy="195.52" r="0.8" fill="#000"/>
<circle cx="102.44" cy="199.86" r="0.8" fill="#000"/>
<circle cx="98.12" cy="219.96" r="0.8" fill="#000"/>
<circle cx="100.32" cy="213.71" r="0.8" fill="#000"/>
<circle cx="94.91" cy="182.64" r="0.8" fill="#000"/>
<circle cx="95.94" cy="221.33" r="0.8" fill="#000"/>
<circle cx="105.51" cy="188.51" r="0.8" fill="#000"/>
<circle cx="98.34" cy="186.19" r="0.8" fill="#000"/>
<circle cx="88.07" cy="198.05" r="0.8" fill="#000"/>
<circle cx="100.73" cy="224.95" r="0.8" fill="#000"/>
<circle cx="92.55" cy="162.63" r="0.8" fill="#000"/>
<circle cx="96.17" cy="198.20" r="0.8" fill="#000"/>
<circle cx="107.01" cy="196.78" r="0.8" fill="#000"/>
<circle cx="92.84" cy="208.20" r="0.8" fill="#000"/>
<circle cx="90.70" cy="219.63" r="0.8" fill="#000"/>
<circle cx="105.16" cy="206.02" r="0.8" fill="#000"/>
<circle cx="90.37" cy="196.71" r="0.8" fill="#000"/>
<circle cx="90.36" cy="217.55" r="0.8" fill="#000"/>
<circle cx="98.94" cy="198.37" r="0.8" fill="#000"/>
<circle cx="106.43" cy="177.73" r="0.8" fill="#000"/>
<circle cx="96.75" cy="191.98" r="0.8" fill="#000"/>
<circle cx="106.93" cy="202.62" r="0.8" fill="#000"/>
<circle cx="96.61" cy="179.75" r="0.8" fill="#000"/>
<circle cx="87.76" cy="182.36" r="0.8" fill="#000"/>
<circle cx="95.78" cy="182.69" r="0.8" fill="#000"/>
<circle cx="93.19" cy="216.57" r="0.8" fill="#000"/>
<circle cx="100.20" cy="236.93" r="0.8" fill="#000"/>
<circle cx="97.24" cy="184.79" r="0.8" fill="#000"/>
<circle cx="93.45" cy="199.49" r="0.8" fill="#000"/>
<circle cx="91.19" cy="208.08" r="0.8" fill="#000"/>
<circle cx="94.84" cy="191.02" r="0.8" fill="#000"/>
<circle cx="92.33" cy="209.70" r="0.8" fill="#000"/>
<circle cx="94.82" cy="213.03" r="0.8" fill="#000"/>
<circle cx="93.52" cy="164.67" r="0.8" fill="#000"/>
<circle cx="96.82" cy="232.40" r="0.8" fill="#000"/>
<circle cx="95.57" cy="183.96" r="0.8" fill="#000"/>
<circle cx="96.13" cy="180.50" r="0.8" fill="#000"/>
<circle cx="92.33" cy="165.32" r="0.8" fill="#000"/>
<circle cx="100.02" cy="195.65" r="0.8" fill="#000"/>
<circle cx="93.82" cy="190.54" r="0.8" fill="#000"/>
<circle cx="93.96" cy="218.93" r="0.8" fill="#000"/>
<circle cx="98.16" cy="200.08" r="0.8" fill="#000"/>
<circle cx="98.05" cy="212.01" r="0.8" fill="#000"/>
<circle cx="93.57" cy="201.25" r="0.8" fill="#000"/>
<circle cx="104.45" cy="202.78" r="0.8" fill="#000"/>
<circle cx="104.94" cy="210.25" r="0.8" fill="#000"/>
<circle cx="95.80" cy="147.89" r="0.8" fill="#000"/>
<circle cx="105.00" cy="147.89" r="0.8" fill="#000"/>
<line x1="47.80" y1="143.30" x2="96.40" y2="143.30" stroke="#555" stroke-width="0.5"/>
<line x1="47.80" y1="143.30" x2="47.80" y2="146.30" stroke="#555" stroke-width="0.5"/>
<line x1="96.40" y1="143.30" x2="96.40" y2="146.30" stroke="#555" stroke-width="0.5"/>
<text x="75.80" y="142.60" font-size="5.6" text-anchor="middle" font-weight="normal" fill="#0a0a0a"><tspan font-style="italic">P</tspan> = 0.064</text>
<text x="47.50" y="250.60" font-size="5.8" text-anchor="middle" font-weight="normal" fill="#0a0a0a">Female</text>
<text x="47.50" y="257.00" font-size="5.8" text-anchor="middle" font-weight="normal" fill="#0a0a0a">(n = 110)</text>
<text x="96.50" y="250.60" font-size="5.8" text-anchor="middle" font-weight="normal" fill="#0a0a0a">Male</text>
<text x="96.50" y="257.00" font-size="5.8" text-anchor="middle" font-weight="normal" fill="#0a0a0a">(n = 236)</text>
<text x="72.60" y="263.20" font-size="5.8" text-anchor="middle" font-weight="normal" fill="#0a0a0a">Gender</text>
<text x="0.60" y="281.80" font-size="9.3" text-anchor="start" font-weight="bold" fill="#000">E</text>
<line x1="16.90" y1="278.00" x2="16.90" y2="383.50" stroke="#9a9a9a" stroke-width="0.7"/>
<line x1="16.90" y1="383.50" x2="125.00" y2="383.50" stroke="#9a9a9a" stroke-width="0.7"/>
<text x="16.00" y="302.00" font-size="5.6" text-anchor="end" font-weight="normal" fill="#0a0a0a">6</text>
<line x1="16.10" y1="299.40" x2="16.90" y2="299.40" stroke="#9a9a9a" stroke-width="0.6"/>
<text x="16.00" y="335.60" font-size="5.6" text-anchor="end" font-weight="normal" fill="#0a0a0a">4</text>
<line x1="16.10" y1="333.00" x2="16.90" y2="333.00" stroke="#9a9a9a" stroke-width="0.6"/>
<text x="16.00" y="369.20" font-size="5.6" text-anchor="end" font-weight="normal" fill="#0a0a0a">2</text>
<line x1="16.10" y1="366.60" x2="16.90" y2="366.60" stroke="#9a9a9a" stroke-width="0.6"/>
<text x="12.20" y="330.00" font-size="5.5" text-anchor="middle" font-weight="normal" fill="#0a0a0a" transform="rotate(-90 12.2 330)">Risk score</text>
<line x1="32.20" y1="337.87" x2="32.20" y2="374.33" stroke="#333" stroke-width="0.5"/>
<rect x="22.20" y="356.10" width="20.00" height="11.26" fill="#21a29f" stroke="#333" stroke-width="0.35"/>
<line x1="22.20" y1="361.73" x2="42.20" y2="361.73" stroke="#333" stroke-width="0.4"/>
<line x1="58.05" y1="338.88" x2="58.05" y2="375.00" stroke="#333" stroke-width="0.5"/>
<rect x="48.20" y="351.14" width="19.70" height="11.09" fill="#f5a254" stroke="#333" stroke-width="0.35"/>
<line x1="48.20" y1="356.18" x2="67.90" y2="356.18" stroke="#333" stroke-width="0.4"/>
<line x1="83.35" y1="332.16" x2="83.35" y2="380.04" stroke="#333" stroke-width="0.5"/>
<rect x="73.50" y="348.29" width="19.70" height="13.94" fill="#bf161b" stroke="#333" stroke-width="0.35"/>
<line x1="73.50" y1="355.34" x2="93.20" y2="355.34" stroke="#333" stroke-width="0.4"/>
<line x1="108.95" y1="348.96" x2="108.95" y2="361.06" stroke="#333" stroke-width="0.5"/>
<rect x="99.40" y="351.90" width="19.10" height="7.98" fill="#1d2f9c" stroke="#333" stroke-width="0.35"/>
<line x1="99.40" y1="356.02" x2="118.50" y2="356.02" stroke="#333" stroke-width="0.4"/>
<circle cx="29.13" cy="369.88" r="0.75" fill="#000"/>
<circle cx="31.66" cy="369.66" r="0.75" fill="#000"/>
<circle cx="34.14" cy="356.84" r="0.75" fill="#000"/>
<circle cx="35.29" cy="362.57" r="0.75" fill="#000"/>
<circle cx="32.14" cy="353.79" r="0.75" fill="#000"/>
<circle cx="36.13" cy="360.13" r="0.75" fill="#000"/>
<circle cx="33.54" cy="351.99" r="0.75" fill="#000"/>
<circle cx="36.08" cy="365.12" r="0.75" fill="#000"/>
<circle cx="38.68" cy="358.75" r="0.75" fill="#000"/>
<circle cx="32.53" cy="363.58" r="0.75" fill="#000"/>
<circle cx="32.22" cy="366.77" r="0.75" fill="#000"/>
<circle cx="35.08" cy="360.53" r="0.75" fill="#000"/>
<circle cx="35.05" cy="370.43" r="0.75" fill="#000"/>
<circle cx="31.52" cy="364.06" r="0.75" fill="#000"/>
<circle cx="34.71" cy="356.64" r="0.75" fill="#000"/>
<circle cx="32.80" cy="361.15" r="0.75" fill="#000"/>
<circle cx="34.97" cy="364.45" r="0.75" fill="#000"/>
<circle cx="34.68" cy="346.11" r="0.75" fill="#000"/>
<circle cx="26.56" cy="361.15" r="0.75" fill="#000"/>
<circle cx="32.83" cy="365.70" r="0.75" fill="#000"/>
<circle cx="31.54" cy="360.43" r="0.75" fill="#000"/>
<circle cx="29.93" cy="365.25" r="0.75" fill="#000"/>
<circle cx="30.10" cy="364.28" r="0.75" fill="#000"/>
<circle cx="26.56" cy="364.03" r="0.75" fill="#000"/>
<circle cx="28.72" cy="347.27" r="0.75" fill="#000"/>
<circle cx="26.85" cy="361.40" r="0.75" fill="#000"/>
<circle cx="31.13" cy="360.32" r="0.75" fill="#000"/>
<circle cx="33.60" cy="356.80" r="0.75" fill="#000"/>
<circle cx="33.18" cy="347.33" r="0.75" fill="#000"/>
<circle cx="28.08" cy="363.14" r="0.75" fill="#000"/>
<circle cx="30.04" cy="365.96" r="0.75" fill="#000"/>
<circle cx="31.83" cy="344.10" r="0.75" fill="#000"/>
<circle cx="28.10" cy="371.86" r="0.75" fill="#000"/>
<circle cx="30.18" cy="364.15" r="0.75" fill="#000"/>
<circle cx="31.40" cy="356.85" r="0.75" fill="#000"/>
<circle cx="35.94" cy="345.45" r="0.75" fill="#000"/>
<circle cx="33.85" cy="368.26" r="0.75" fill="#000"/>
<circle cx="35.36" cy="356.89" r="0.75" fill="#000"/>
<circle cx="28.81" cy="365.24" r="0.75" fill="#000"/>
<circle cx="33.31" cy="364.29" r="0.75" fill="#000"/>
<circle cx="38.62" cy="358.31" r="0.75" fill="#000"/>
<circle cx="31.92" cy="359.98" r="0.75" fill="#000"/>
<circle cx="31.47" cy="359.51" r="0.75" fill="#000"/>
<circle cx="29.93" cy="364.60" r="0.75" fill="#000"/>
<circle cx="30.50" cy="352.46" r="0.75" fill="#000"/>
<circle cx="35.82" cy="350.94" r="0.75" fill="#000"/>
<circle cx="30.86" cy="361.33" r="0.75" fill="#000"/>
<circle cx="28.85" cy="364.75" r="0.75" fill="#000"/>
<circle cx="34.65" cy="356.39" r="0.75" fill="#000"/>
<circle cx="38.28" cy="358.19" r="0.75" fill="#000"/>
<circle cx="31.20" cy="368.90" r="0.75" fill="#000"/>
<circle cx="35.51" cy="364.81" r="0.75" fill="#000"/>
<circle cx="30.36" cy="354.16" r="0.75" fill="#000"/>
<circle cx="35.51" cy="362.24" r="0.75" fill="#000"/>
<circle cx="30.56" cy="363.88" r="0.75" fill="#000"/>
<circle cx="30.42" cy="360.06" r="0.75" fill="#000"/>
<circle cx="30.37" cy="361.80" r="0.75" fill="#000"/>
<circle cx="36.43" cy="361.58" r="0.75" fill="#000"/>
<circle cx="29.05" cy="349.22" r="0.75" fill="#000"/>
<circle cx="33.65" cy="360.15" r="0.75" fill="#000"/>
<circle cx="32.39" cy="367.75" r="0.75" fill="#000"/>
<circle cx="28.19" cy="354.65" r="0.75" fill="#000"/>
<circle cx="34.16" cy="359.38" r="0.75" fill="#000"/>
<circle cx="32.77" cy="361.44" r="0.75" fill="#000"/>
<circle cx="33.93" cy="354.17" r="0.75" fill="#000"/>
<circle cx="31.24" cy="345.61" r="0.75" fill="#000"/>
<circle cx="32.62" cy="357.65" r="0.75" fill="#000"/>
<circle cx="31.29" cy="350.38" r="0.75" fill="#000"/>
<circle cx="31.00" cy="346.34" r="0.75" fill="#000"/>
<circle cx="30.99" cy="368.76" r="0.75" fill="#000"/>
<circle cx="34.53" cy="365.25" r="0.75" fill="#000"/>
<circle cx="27.26" cy="356.08" r="0.75" fill="#000"/>
<circle cx="34.78" cy="373.61" r="0.75" fill="#000"/>
<circle cx="35.21" cy="363.45" r="0.75" fill="#000"/>
<circle cx="30.76" cy="352.44" r="0.75" fill="#000"/>
<circle cx="32.22" cy="354.20" r="0.75" fill="#000"/>
<circle cx="34.56" cy="357.47" r="0.75" fill="#000"/>
<circle cx="34.93" cy="344.97" r="0.75" fill="#000"/>
<circle cx="30.65" cy="357.67" r="0.75" fill="#000"/>
<circle cx="32.54" cy="356.15" r="0.75" fill="#000"/>
<circle cx="33.08" cy="358.07" r="0.75" fill="#000"/>
<circle cx="31.52" cy="373.67" r="0.75" fill="#000"/>
<circle cx="33.08" cy="371.68" r="0.75" fill="#000"/>
<circle cx="32.67" cy="370.14" r="0.75" fill="#000"/>
<circle cx="32.57" cy="348.03" r="0.75" fill="#000"/>
<circle cx="32.39" cy="367.42" r="0.75" fill="#000"/>
<circle cx="31.01" cy="363.27" r="0.75" fill="#000"/>
<circle cx="30.39" cy="363.36" r="0.75" fill="#000"/>
<circle cx="31.37" cy="357.53" r="0.75" fill="#000"/>
<circle cx="32.54" cy="358.03" r="0.75" fill="#000"/>
<circle cx="35.36" cy="359.67" r="0.75" fill="#000"/>
<circle cx="30.45" cy="370.46" r="0.75" fill="#000"/>
<circle cx="38.98" cy="360.39" r="0.75" fill="#000"/>
<circle cx="30.46" cy="359.67" r="0.75" fill="#000"/>
<circle cx="32.63" cy="352.88" r="0.75" fill="#000"/>
<circle cx="36.35" cy="362.29" r="0.75" fill="#000"/>
<circle cx="31.14" cy="365.87" r="0.75" fill="#000"/>
<circle cx="33.66" cy="358.66" r="0.75" fill="#000"/>
<circle cx="30.54" cy="372.53" r="0.75" fill="#000"/>
<circle cx="29.25" cy="368.91" r="0.75" fill="#000"/>
<circle cx="29.88" cy="368.66" r="0.75" fill="#000"/>
<circle cx="28.64" cy="359.53" r="0.75" fill="#000"/>
<circle cx="26.16" cy="346.81" r="0.75" fill="#000"/>
<circle cx="34.41" cy="356.17" r="0.75" fill="#000"/>
<circle cx="32.29" cy="353.50" r="0.75" fill="#000"/>
<circle cx="30.44" cy="359.88" r="0.75" fill="#000"/>
<circle cx="32.82" cy="359.59" r="0.75" fill="#000"/>
<circle cx="34.37" cy="364.73" r="0.75" fill="#000"/>
<circle cx="30.49" cy="363.54" r="0.75" fill="#000"/>
<circle cx="30.69" cy="370.04" r="0.75" fill="#000"/>
<circle cx="35.09" cy="370.64" r="0.75" fill="#000"/>
<circle cx="33.42" cy="355.65" r="0.75" fill="#000"/>
<circle cx="30.91" cy="356.88" r="0.75" fill="#000"/>
<circle cx="32.23" cy="353.50" r="0.75" fill="#000"/>
<circle cx="29.77" cy="350.58" r="0.75" fill="#000"/>
<circle cx="29.46" cy="363.71" r="0.75" fill="#000"/>
<circle cx="31.62" cy="354.11" r="0.75" fill="#000"/>
<circle cx="34.76" cy="347.76" r="0.75" fill="#000"/>
<circle cx="30.49" cy="361.62" r="0.75" fill="#000"/>
<circle cx="26.76" cy="353.89" r="0.75" fill="#000"/>
<circle cx="31.04" cy="362.72" r="0.75" fill="#000"/>
<circle cx="34.68" cy="372.94" r="0.75" fill="#000"/>
<circle cx="33.03" cy="360.71" r="0.75" fill="#000"/>
<circle cx="30.50" cy="367.36" r="0.75" fill="#000"/>
<circle cx="26.68" cy="360.79" r="0.75" fill="#000"/>
<circle cx="36.60" cy="364.83" r="0.75" fill="#000"/>
<circle cx="27.61" cy="359.30" r="0.75" fill="#000"/>
<circle cx="36.63" cy="346.85" r="0.75" fill="#000"/>
<circle cx="31.92" cy="351.97" r="0.75" fill="#000"/>
<circle cx="32.05" cy="364.04" r="0.75" fill="#000"/>
<circle cx="29.20" cy="367.97" r="0.75" fill="#000"/>
<circle cx="31.94" cy="361.53" r="0.75" fill="#000"/>
<circle cx="28.88" cy="356.79" r="0.75" fill="#000"/>
<circle cx="35.53" cy="358.57" r="0.75" fill="#000"/>
<circle cx="33.85" cy="358.73" r="0.75" fill="#000"/>
<circle cx="34.76" cy="369.54" r="0.75" fill="#000"/>
<circle cx="33.35" cy="352.08" r="0.75" fill="#000"/>
<circle cx="33.14" cy="359.87" r="0.75" fill="#000"/>
<circle cx="26.16" cy="372.30" r="0.75" fill="#000"/>
<circle cx="26.94" cy="367.69" r="0.75" fill="#000"/>
<circle cx="34.77" cy="371.78" r="0.75" fill="#000"/>
<circle cx="30.54" cy="368.76" r="0.75" fill="#000"/>
<circle cx="34.70" cy="353.22" r="0.75" fill="#000"/>
<circle cx="32.53" cy="363.13" r="0.75" fill="#000"/>
<circle cx="29.18" cy="353.58" r="0.75" fill="#000"/>
<circle cx="27.43" cy="360.22" r="0.75" fill="#000"/>
<circle cx="30.54" cy="372.29" r="0.75" fill="#000"/>
<circle cx="32.43" cy="366.19" r="0.75" fill="#000"/>
<circle cx="28.95" cy="345.18" r="0.75" fill="#000"/>
<circle cx="28.37" cy="367.04" r="0.75" fill="#000"/>
<circle cx="52.45" cy="352.32" r="0.75" fill="#000"/>
<circle cx="56.06" cy="371.55" r="0.75" fill="#000"/>
<circle cx="55.39" cy="363.03" r="0.75" fill="#000"/>
<circle cx="60.68" cy="355.91" r="0.75" fill="#000"/>
<circle cx="55.73" cy="344.13" r="0.75" fill="#000"/>
<circle cx="61.46" cy="356.48" r="0.75" fill="#000"/>
<circle cx="56.26" cy="370.46" r="0.75" fill="#000"/>
<circle cx="55.42" cy="353.88" r="0.75" fill="#000"/>
<circle cx="55.85" cy="366.59" r="0.75" fill="#000"/>
<circle cx="58.94" cy="346.22" r="0.75" fill="#000"/>
<circle cx="62.42" cy="358.67" r="0.75" fill="#000"/>
<circle cx="60.13" cy="341.56" r="0.75" fill="#000"/>
<circle cx="57.52" cy="357.62" r="0.75" fill="#000"/>
<circle cx="57.26" cy="365.13" r="0.75" fill="#000"/>
<circle cx="63.12" cy="368.87" r="0.75" fill="#000"/>
<circle cx="53.17" cy="359.55" r="0.75" fill="#000"/>
<circle cx="54.62" cy="352.78" r="0.75" fill="#000"/>
<circle cx="56.69" cy="346.53" r="0.75" fill="#000"/>
<circle cx="56.87" cy="354.28" r="0.75" fill="#000"/>
<circle cx="60.14" cy="362.73" r="0.75" fill="#000"/>
<circle cx="57.47" cy="352.31" r="0.75" fill="#000"/>
<circle cx="59.02" cy="368.59" r="0.75" fill="#000"/>
<circle cx="58.30" cy="352.28" r="0.75" fill="#000"/>
<circle cx="62.19" cy="362.82" r="0.75" fill="#000"/>
<circle cx="57.78" cy="343.95" r="0.75" fill="#000"/>
<circle cx="54.32" cy="348.19" r="0.75" fill="#000"/>
<circle cx="56.46" cy="353.44" r="0.75" fill="#000"/>
<circle cx="56.32" cy="365.10" r="0.75" fill="#000"/>
<circle cx="56.14" cy="351.89" r="0.75" fill="#000"/>
<circle cx="56.32" cy="353.43" r="0.75" fill="#000"/>
<circle cx="60.57" cy="361.13" r="0.75" fill="#000"/>
<circle cx="60.35" cy="361.75" r="0.75" fill="#000"/>
<circle cx="57.77" cy="345.84" r="0.75" fill="#000"/>
<circle cx="55.98" cy="359.89" r="0.75" fill="#000"/>
<circle cx="63.74" cy="352.80" r="0.75" fill="#000"/>
<circle cx="60.45" cy="344.84" r="0.75" fill="#000"/>
<circle cx="61.42" cy="369.00" r="0.75" fill="#000"/>
<circle cx="58.61" cy="341.51" r="0.75" fill="#000"/>
<circle cx="60.48" cy="348.01" r="0.75" fill="#000"/>
<circle cx="59.62" cy="361.96" r="0.75" fill="#000"/>
<circle cx="57.97" cy="364.51" r="0.75" fill="#000"/>
<circle cx="57.10" cy="366.77" r="0.75" fill="#000"/>
<circle cx="59.88" cy="348.66" r="0.75" fill="#000"/>
<circle cx="58.21" cy="348.69" r="0.75" fill="#000"/>
<circle cx="59.01" cy="355.11" r="0.75" fill="#000"/>
<circle cx="60.81" cy="362.26" r="0.75" fill="#000"/>
<circle cx="57.73" cy="360.79" r="0.75" fill="#000"/>
<circle cx="57.37" cy="359.60" r="0.75" fill="#000"/>
<circle cx="59.26" cy="358.45" r="0.75" fill="#000"/>
<circle cx="52.54" cy="349.04" r="0.75" fill="#000"/>
<circle cx="54.04" cy="363.54" r="0.75" fill="#000"/>
<circle cx="63.32" cy="347.32" r="0.75" fill="#000"/>
<circle cx="62.57" cy="348.22" r="0.75" fill="#000"/>
<circle cx="54.03" cy="358.64" r="0.75" fill="#000"/>
<circle cx="56.98" cy="351.39" r="0.75" fill="#000"/>
<circle cx="58.13" cy="361.08" r="0.75" fill="#000"/>
<circle cx="55.06" cy="356.05" r="0.75" fill="#000"/>
<circle cx="55.23" cy="352.32" r="0.75" fill="#000"/>
<circle cx="54.97" cy="340.22" r="0.75" fill="#000"/>
<circle cx="54.11" cy="356.95" r="0.75" fill="#000"/>
<circle cx="56.10" cy="357.78" r="0.75" fill="#000"/>
<circle cx="55.35" cy="356.25" r="0.75" fill="#000"/>
<circle cx="56.56" cy="358.05" r="0.75" fill="#000"/>
<circle cx="60.34" cy="365.58" r="0.75" fill="#000"/>
<circle cx="54.44" cy="340.73" r="0.75" fill="#000"/>
<circle cx="56.75" cy="361.75" r="0.75" fill="#000"/>
<circle cx="60.52" cy="361.44" r="0.75" fill="#000"/>
<circle cx="54.67" cy="362.51" r="0.75" fill="#000"/>
<circle cx="56.81" cy="350.71" r="0.75" fill="#000"/>
<circle cx="60.79" cy="348.21" r="0.75" fill="#000"/>
<circle cx="59.53" cy="353.60" r="0.75" fill="#000"/>
<circle cx="60.56" cy="356.72" r="0.75" fill="#000"/>
<circle cx="59.28" cy="364.98" r="0.75" fill="#000"/>
<circle cx="62.49" cy="350.26" r="0.75" fill="#000"/>
<circle cx="56.59" cy="357.27" r="0.75" fill="#000"/>
<circle cx="54.20" cy="338.94" r="0.75" fill="#000"/>
<circle cx="56.65" cy="358.82" r="0.75" fill="#000"/>
<circle cx="56.84" cy="364.99" r="0.75" fill="#000"/>
<circle cx="54.35" cy="371.98" r="0.75" fill="#000"/>
<circle cx="55.10" cy="371.50" r="0.75" fill="#000"/>
<circle cx="58.13" cy="351.36" r="0.75" fill="#000"/>
<circle cx="61.44" cy="353.63" r="0.75" fill="#000"/>
<circle cx="56.42" cy="366.23" r="0.75" fill="#000"/>
<circle cx="62.14" cy="369.44" r="0.75" fill="#000"/>
<circle cx="56.87" cy="354.13" r="0.75" fill="#000"/>
<circle cx="52.72" cy="359.52" r="0.75" fill="#000"/>
<circle cx="58.28" cy="354.59" r="0.75" fill="#000"/>
<circle cx="62.70" cy="356.66" r="0.75" fill="#000"/>
<circle cx="60.86" cy="363.12" r="0.75" fill="#000"/>
<circle cx="57.62" cy="371.18" r="0.75" fill="#000"/>
<circle cx="83.81" cy="351.92" r="0.75" fill="#000"/>
<circle cx="80.31" cy="344.64" r="0.75" fill="#000"/>
<circle cx="87.78" cy="344.45" r="0.75" fill="#000"/>
<circle cx="83.13" cy="349.14" r="0.75" fill="#000"/>
<circle cx="78.58" cy="351.80" r="0.75" fill="#000"/>
<circle cx="84.09" cy="348.77" r="0.75" fill="#000"/>
<circle cx="80.61" cy="355.72" r="0.75" fill="#000"/>
<circle cx="80.86" cy="362.70" r="0.75" fill="#000"/>
<circle cx="82.41" cy="364.37" r="0.75" fill="#000"/>
<circle cx="82.50" cy="366.96" r="0.75" fill="#000"/>
<circle cx="77.66" cy="352.26" r="0.75" fill="#000"/>
<circle cx="80.76" cy="348.94" r="0.75" fill="#000"/>
<circle cx="84.52" cy="337.93" r="0.75" fill="#000"/>
<circle cx="84.83" cy="349.45" r="0.75" fill="#000"/>
<circle cx="83.65" cy="351.75" r="0.75" fill="#000"/>
<circle cx="77.50" cy="347.80" r="0.75" fill="#000"/>
<circle cx="83.07" cy="354.69" r="0.75" fill="#000"/>
<circle cx="84.01" cy="373.85" r="0.75" fill="#000"/>
<circle cx="83.13" cy="343.77" r="0.75" fill="#000"/>
<circle cx="83.67" cy="359.27" r="0.75" fill="#000"/>
<circle cx="82.71" cy="352.27" r="0.75" fill="#000"/>
<circle cx="88.38" cy="357.32" r="0.75" fill="#000"/>
<circle cx="87.31" cy="342.74" r="0.75" fill="#000"/>
<circle cx="84.38" cy="350.26" r="0.75" fill="#000"/>
<circle cx="80.05" cy="366.31" r="0.75" fill="#000"/>
<circle cx="84.06" cy="345.34" r="0.75" fill="#000"/>
<circle cx="80.76" cy="363.83" r="0.75" fill="#000"/>
<circle cx="81.29" cy="342.55" r="0.75" fill="#000"/>
<circle cx="80.43" cy="370.28" r="0.75" fill="#000"/>
<circle cx="84.50" cy="355.46" r="0.75" fill="#000"/>
<circle cx="84.65" cy="344.85" r="0.75" fill="#000"/>
<circle cx="81.65" cy="363.41" r="0.75" fill="#000"/>
<circle cx="79.34" cy="353.37" r="0.75" fill="#000"/>
<circle cx="80.26" cy="352.82" r="0.75" fill="#000"/>
<circle cx="86.36" cy="344.67" r="0.75" fill="#000"/>
<circle cx="80.81" cy="359.56" r="0.75" fill="#000"/>
<circle cx="81.94" cy="347.26" r="0.75" fill="#000"/>
<circle cx="83.77" cy="332.82" r="0.75" fill="#000"/>
<circle cx="85.14" cy="370.00" r="0.75" fill="#000"/>
<circle cx="82.70" cy="363.43" r="0.75" fill="#000"/>
<circle cx="81.65" cy="349.62" r="0.75" fill="#000"/>
<circle cx="86.07" cy="361.30" r="0.75" fill="#000"/>
<circle cx="80.71" cy="368.53" r="0.75" fill="#000"/>
<circle cx="87.88" cy="339.48" r="0.75" fill="#000"/>
<circle cx="89.66" cy="344.35" r="0.75" fill="#000"/>
<circle cx="80.02" cy="342.83" r="0.75" fill="#000"/>
<circle cx="86.99" cy="343.06" r="0.75" fill="#000"/>
<circle cx="85.51" cy="346.80" r="0.75" fill="#000"/>
<circle cx="85.90" cy="362.99" r="0.75" fill="#000"/>
<circle cx="87.39" cy="379.25" r="0.75" fill="#000"/>
<circle cx="83.90" cy="349.07" r="0.75" fill="#000"/>
<circle cx="83.64" cy="365.61" r="0.75" fill="#000"/>
<circle cx="85.63" cy="353.82" r="0.75" fill="#000"/>
<circle cx="84.45" cy="350.24" r="0.75" fill="#000"/>
<circle cx="82.68" cy="367.52" r="0.75" fill="#000"/>
<circle cx="87.01" cy="357.84" r="0.75" fill="#000"/>
<circle cx="87.96" cy="336.05" r="0.75" fill="#000"/>
<circle cx="86.31" cy="346.23" r="0.75" fill="#000"/>
<circle cx="81.89" cy="371.33" r="0.75" fill="#000"/>
<circle cx="83.48" cy="356.41" r="0.75" fill="#000"/>
<circle cx="84.09" cy="354.27" r="0.75" fill="#000"/>
<circle cx="81.97" cy="348.28" r="0.75" fill="#000"/>
<circle cx="81.20" cy="346.46" r="0.75" fill="#000"/>
<circle cx="82.98" cy="354.99" r="0.75" fill="#000"/>
<circle cx="80.33" cy="356.80" r="0.75" fill="#000"/>
<circle cx="85.49" cy="345.16" r="0.75" fill="#000"/>
<circle cx="84.50" cy="369.36" r="0.75" fill="#000"/>
<circle cx="81.77" cy="342.33" r="0.75" fill="#000"/>
<circle cx="108.82" cy="360.42" r="0.75" fill="#000"/>
<circle cx="110.01" cy="354.56" r="0.75" fill="#000"/>
<circle cx="105.35" cy="349.16" r="0.75" fill="#000"/>
<circle cx="109.91" cy="349.73" r="0.75" fill="#000"/>
<circle cx="108.22" cy="355.44" r="0.75" fill="#000"/>
<line x1="83.30" y1="283.50" x2="110.00" y2="283.50" stroke="#555" stroke-width="0.5"/>
<text x="99.50" y="282.70" font-size="5.6" text-anchor="middle" font-weight="normal" fill="#0a0a0a"><tspan font-style="italic">P</tspan> = 0.88</text>
<line x1="56.60" y1="292.50" x2="110.00" y2="292.50" stroke="#555" stroke-width="0.5"/>
<text x="87.00" y="292.00" font-size="5.6" text-anchor="middle" font-weight="normal" fill="#0a0a0a"><tspan font-style="italic">P</tspan> = 0.47</text>
<line x1="56.60" y1="301.80" x2="83.30" y2="301.80" stroke="#555" stroke-width="0.5"/>
<text x="72.80" y="301.00" font-size="5.6" text-anchor="middle" font-weight="normal" fill="#0a0a0a"><tspan font-style="italic">P</tspan> = 0.38</text>
<line x1="31.30" y1="311.60" x2="110.00" y2="311.60" stroke="#555" stroke-width="0.5"/>
<text x="74.20" y="309.40" font-size="5.6" text-anchor="middle" font-weight="normal" fill="#0a0a0a"><tspan font-style="italic">P</tspan> = 0.0039</text>
<line x1="31.30" y1="321.50" x2="83.30" y2="321.50" stroke="#555" stroke-width="0.5"/>
<text x="62.20" y="319.20" font-size="5.6" text-anchor="middle" font-weight="normal" fill="#0a0a0a"><tspan font-style="italic">P</tspan> = 2.2e–05</text>
<line x1="31.30" y1="330.50" x2="56.60" y2="330.50" stroke="#555" stroke-width="0.5"/>
<text x="48.90" y="329.00" font-size="5.6" text-anchor="middle" font-weight="normal" fill="#0a0a0a"><tspan font-style="italic">P</tspan> = 0.0005</text>
<text x="32.20" y="390.50" font-size="5.8" text-anchor="middle" font-weight="normal" fill="#0a0a0a">T1</text>
<text x="58.05" y="390.50" font-size="5.8" text-anchor="middle" font-weight="normal" fill="#0a0a0a">T2</text>
<text x="83.35" y="390.50" font-size="5.8" text-anchor="middle" font-weight="normal" fill="#0a0a0a">T3</text>
<text x="108.95" y="390.50" font-size="5.8" text-anchor="middle" font-weight="normal" fill="#0a0a0a">T4</text>
<text x="68.80" y="398.20" font-size="5.8" text-anchor="middle" font-weight="normal" fill="#0a0a0a">T stage</text>
<text x="137.20" y="7.70" font-size="9.3" text-anchor="start" font-weight="bold" fill="#000">B</text>
<text x="202.80" y="15.30" font-size="5.6" text-anchor="middle" font-weight="normal" fill="#0a0a0a">Age (years) ≥ 60 (n = 189)</text>
<line x1="156.80" y1="17.20" x2="156.80" y2="106.20" stroke="#9a9a9a" stroke-width="0.7"/>
<line x1="156.80" y1="106.20" x2="240.00" y2="106.20" stroke="#9a9a9a" stroke-width="0.7"/>
<text x="154.80" y="104.20" font-size="5.6" text-anchor="end" font-weight="normal" fill="#0a0a0a">0</text>
<line x1="155.50" y1="102.20" x2="156.80" y2="102.20" stroke="#9a9a9a" stroke-width="0.6"/>
<text x="154.80" y="83.50" font-size="5.6" text-anchor="end" font-weight="normal" fill="#0a0a0a">25</text>
<line x1="155.50" y1="81.50" x2="156.80" y2="81.50" stroke="#9a9a9a" stroke-width="0.6"/>
<text x="154.80" y="62.80" font-size="5.6" text-anchor="end" font-weight="normal" fill="#0a0a0a">50</text>
<line x1="155.50" y1="60.80" x2="156.80" y2="60.80" stroke="#9a9a9a" stroke-width="0.6"/>
<text x="154.80" y="42.10" font-size="5.6" text-anchor="end" font-weight="normal" fill="#0a0a0a">75</text>
<line x1="155.50" y1="40.10" x2="156.80" y2="40.10" stroke="#9a9a9a" stroke-width="0.6"/>
<text x="154.80" y="21.40" font-size="5.6" text-anchor="end" font-weight="normal" fill="#0a0a0a">100</text>
<line x1="155.50" y1="19.40" x2="156.80" y2="19.40" stroke="#9a9a9a" stroke-width="0.6"/>
<text x="160.90" y="112.80" font-size="5.6" text-anchor="middle" font-weight="normal" fill="#0a0a0a">0</text>
<line x1="160.90" y1="106.20" x2="160.90" y2="107.50" stroke="#9a9a9a" stroke-width="0.6"/>
<text x="179.68" y="112.80" font-size="5.6" text-anchor="middle" font-weight="normal" fill="#0a0a0a">30</text>
<line x1="179.68" y1="106.20" x2="179.68" y2="107.50" stroke="#9a9a9a" stroke-width="0.6"/>
<text x="198.45" y="112.80" font-size="5.6" text-anchor="middle" font-weight="normal" fill="#0a0a0a">60</text>
<line x1="198.45" y1="106.20" x2="198.45" y2="107.50" stroke="#9a9a9a" stroke-width="0.6"/>
<text x="217.22" y="112.80" font-size="5.6" text-anchor="middle" font-weight="normal" fill="#0a0a0a">90</text>
<line x1="217.22" y1="106.20" x2="217.22" y2="107.50" stroke="#9a9a9a" stroke-width="0.6"/>
<text x="236.00" y="112.80" font-size="5.6" text-anchor="middle" font-weight="normal" fill="#0a0a0a">120</text>
<line x1="236.00" y1="106.20" x2="236.00" y2="107.50" stroke="#9a9a9a" stroke-width="0.6"/>
<text x="201.40" y="119.80" font-size="5.8" text-anchor="middle" font-weight="normal" fill="#0a0a0a">Overall survival (months)</text>
<text x="147.00" y="64.00" font-size="5.8" text-anchor="middle" font-weight="normal" fill="#0a0a0a" transform="rotate(-90 147.0 64.0)">Overall survival rate (%)</text>
<path d="M161.00,19.90 H161.62 V21.07 H161.84 V22.25 H162.62 V23.43 H163.00 V24.60 H163.47 V25.98 H163.82 V27.37 H164.25 V28.75 H164.57 V30.13 H164.83 V31.52 H165.00 V32.90 H165.42 V34.35 H165.67 V35.80 H166.40 V37.25 H166.90 V38.70 H167.62 V40.30 H168.10 V41.90 H169.15 V43.17 H169.56 V44.43 H170.10 V45.70 H171.89 V46.95 H173.90 V48.20 H174.48 V49.50 H175.20 V50.80 H177.15 V52.10 H178.40 V53.40 H179.75 V55.00 H181.60 V56.60 H183.69 V57.85 H185.40 V59.10 H187.11 V60.50 H187.70 V61.90 H188.73 V63.17 H189.16 V64.43 H190.00 V65.70 H190.29 V67.05 H190.79 V68.40 H191.29 V69.75 H191.50 V71.10 H192.68 V72.37 H193.57 V73.63 H195.30 V74.90 H196.23 V76.05 H196.68 V77.20 H196.87 V78.35 H197.60 V79.50 H198.42 V80.85 H198.70 V82.20 H199.03 V83.55 H199.90 V84.90 H211.40 H211.60 V86.21 H211.80 V87.53 H211.98 V88.84 H212.07 V90.16 H212.15 V91.47 H212.32 V92.79 H212.50 V94.10 H229.10 H229.28 V95.37 H229.35 V96.63 H229.50 V97.90 H233.70" fill="none" stroke="#e58d8b" stroke-width="0.8"/>
<line x1="208.25" y1="84.00" x2="208.25" y2="85.80" stroke="#b86a6a" stroke-width="0.55"/>
<line x1="161.96" y1="21.35" x2="161.96" y2="23.15" stroke="#b86a6a" stroke-width="0.55"/>
<line x1="204.36" y1="84.00" x2="204.36" y2="85.80" stroke="#b86a6a" stroke-width="0.55"/>
<line x1="195.29" y1="72.73" x2="195.29" y2="74.53" stroke="#b86a6a" stroke-width="0.55"/>
<line x1="188.10" y1="61.00" x2="188.10" y2="62.80" stroke="#b86a6a" stroke-width="0.55"/>
<line x1="188.14" y1="61.00" x2="188.14" y2="62.80" stroke="#b86a6a" stroke-width="0.55"/>
<line x1="228.58" y1="93.20" x2="228.58" y2="95.00" stroke="#b86a6a" stroke-width="0.55"/>
<line x1="161.16" y1="19.00" x2="161.16" y2="20.80" stroke="#b86a6a" stroke-width="0.55"/>
<path d="M161.00,19.90 H166.20 V21.40 H167.35 V23.00 H168.10 V24.60 H172.60 V25.90 H173.24 V27.37 H174.61 V28.83 H175.80 V30.30 H177.55 V31.60 H179.70 V32.90 H180.21 V34.17 H180.71 V35.43 H181.60 V36.70 H183.91 V38.00 H186.00 V39.30 H187.30 V41.20 H193.70 V43.10 H194.25 V44.60 H194.86 V46.10 H195.60 V47.60 H196.90 V48.60 H204.80 V51.90 H226.00 V77.20 H232.90" fill="none" stroke="#4f88b5" stroke-width="0.8"/>
<line x1="188.46" y1="40.30" x2="188.46" y2="42.10" stroke="#34587a" stroke-width="0.55"/>
<line x1="217.82" y1="51.00" x2="217.82" y2="52.80" stroke="#34587a" stroke-width="0.55"/>
<line x1="209.06" y1="51.00" x2="209.06" y2="52.80" stroke="#34587a" stroke-width="0.55"/>
<line x1="223.70" y1="51.00" x2="223.70" y2="52.80" stroke="#34587a" stroke-width="0.55"/>
<line x1="180.74" y1="34.53" x2="180.74" y2="36.33" stroke="#34587a" stroke-width="0.55"/>
<line x1="211.02" y1="51.00" x2="211.02" y2="52.80" stroke="#34587a" stroke-width="0.55"/>
<line x1="164.46" y1="19.00" x2="164.46" y2="20.80" stroke="#34587a" stroke-width="0.55"/>
<line x1="195.91" y1="46.70" x2="195.91" y2="48.50" stroke="#34587a" stroke-width="0.55"/>
<line x1="170.58" y1="23.70" x2="170.58" y2="25.50" stroke="#34587a" stroke-width="0.55"/>
<line x1="185.04" y1="37.10" x2="185.04" y2="38.90" stroke="#34587a" stroke-width="0.55"/>
<line x1="164.22" y1="19.00" x2="164.22" y2="20.80" stroke="#34587a" stroke-width="0.55"/>
<line x1="230.10" y1="76.30" x2="230.10" y2="78.10" stroke="#34587a" stroke-width="0.55"/>
<line x1="179.37" y1="30.70" x2="179.37" y2="32.50" stroke="#34587a" stroke-width="0.55"/>
<line x1="198.59" y1="47.70" x2="198.59" y2="49.50" stroke="#34587a" stroke-width="0.55"/>
<line x1="177.17" y1="29.40" x2="177.17" y2="31.20" stroke="#34587a" stroke-width="0.55"/>
<line x1="227.74" y1="76.30" x2="227.74" y2="78.10" stroke="#34587a" stroke-width="0.55"/>
<line x1="208.12" y1="51.00" x2="208.12" y2="52.80" stroke="#34587a" stroke-width="0.55"/>
<line x1="172.71" y1="25.00" x2="172.71" y2="26.80" stroke="#34587a" stroke-width="0.55"/>
<line x1="215.73" y1="51.00" x2="215.73" y2="52.80" stroke="#34587a" stroke-width="0.55"/>
<line x1="231.66" y1="76.30" x2="231.66" y2="78.10" stroke="#34587a" stroke-width="0.55"/>
<line x1="189.62" y1="40.30" x2="189.62" y2="42.10" stroke="#34587a" stroke-width="0.55"/>
<line x1="214.25" y1="51.00" x2="214.25" y2="52.80" stroke="#34587a" stroke-width="0.55"/>
<text x="160.50" y="85.30" font-size="5.5" text-anchor="start" font-weight="normal" fill="#0a0a0a"><tspan font-style="italic">P</tspan> &lt; 0.0001</text>
<text x="160.50" y="93.80" font-size="5.5" text-anchor="start" font-weight="normal" fill="#0a0a0a">HR = 3.22</text>
<text x="160.50" y="102.30" font-size="5.5" text-anchor="start" font-weight="normal" fill="#0a0a0a">(95%CI:1.92–5.40)</text>
<line x1="231.00" y1="51.50" x2="234.60" y2="51.50" stroke="#4f88b5" stroke-width="0.9"/>
<text x="237.00" y="51.30" font-size="5.6" text-anchor="start" font-weight="normal" fill="#0a0a0a">Low risk</text>
<text x="237.00" y="57.70" font-size="5.6" text-anchor="start" font-weight="normal" fill="#0a0a0a">(n = 94)</text>
<line x1="231.00" y1="67.30" x2="234.60" y2="67.30" stroke="#e58d8b" stroke-width="0.9"/>
<text x="237.00" y="67.10" font-size="5.6" text-anchor="start" font-weight="normal" fill="#0a0a0a">High risk</text>
<text x="237.00" y="73.50" font-size="5.6" text-anchor="start" font-weight="normal" fill="#0a0a0a">(n = 95)</text>
<text x="325.40" y="15.50" font-size="5.6" text-anchor="middle" font-weight="normal" fill="#0a0a0a">Age (years) &lt; 60 (n = 157)</text>
<line x1="280.80" y1="17.30" x2="280.80" y2="105.70" stroke="#9a9a9a" stroke-width="0.7"/>
<line x1="280.80" y1="105.70" x2="361.50" y2="105.70" stroke="#9a9a9a" stroke-width="0.7"/>
<text x="278.80" y="103.40" font-size="5.6" text-anchor="end" font-weight="normal" fill="#0a0a0a">0</text>
<line x1="279.50" y1="101.40" x2="280.80" y2="101.40" stroke="#9a9a9a" stroke-width="0.6"/>
<text x="278.80" y="82.93" font-size="5.6" text-anchor="end" font-weight="normal" fill="#0a0a0a">25</text>
<line x1="279.50" y1="80.93" x2="280.80" y2="80.93" stroke="#9a9a9a" stroke-width="0.6"/>
<text x="278.80" y="62.45" font-size="5.6" text-anchor="end" font-weight="normal" fill="#0a0a0a">50</text>
<line x1="279.50" y1="60.45" x2="280.80" y2="60.45" stroke="#9a9a9a" stroke-width="0.6"/>
<text x="278.80" y="41.98" font-size="5.6" text-anchor="end" font-weight="normal" fill="#0a0a0a">75</text>
<line x1="279.50" y1="39.98" x2="280.80" y2="39.98" stroke="#9a9a9a" stroke-width="0.6"/>
<text x="278.80" y="21.50" font-size="5.6" text-anchor="end" font-weight="normal" fill="#0a0a0a">100</text>
<line x1="279.50" y1="19.50" x2="280.80" y2="19.50" stroke="#9a9a9a" stroke-width="0.6"/>
<text x="283.30" y="111.70" font-size="5.6" text-anchor="middle" font-weight="normal" fill="#0a0a0a">0</text>
<line x1="283.30" y1="105.70" x2="283.30" y2="107.00" stroke="#9a9a9a" stroke-width="0.6"/>
<text x="301.93" y="111.70" font-size="5.6" text-anchor="middle" font-weight="normal" fill="#0a0a0a">30</text>
<line x1="301.93" y1="105.70" x2="301.93" y2="107.00" stroke="#9a9a9a" stroke-width="0.6"/>
<text x="320.55" y="111.70" font-size="5.6" text-anchor="middle" font-weight="normal" fill="#0a0a0a">60</text>
<line x1="320.55" y1="105.70" x2="320.55" y2="107.00" stroke="#9a9a9a" stroke-width="0.6"/>
<text x="339.18" y="111.70" font-size="5.6" text-anchor="middle" font-weight="normal" fill="#0a0a0a">90</text>
<line x1="339.18" y1="105.70" x2="339.18" y2="107.00" stroke="#9a9a9a" stroke-width="0.6"/>
<text x="357.80" y="111.70" font-size="5.6" text-anchor="middle" font-weight="normal" fill="#0a0a0a">120</text>
<line x1="357.80" y1="105.70" x2="357.80" y2="107.00" stroke="#9a9a9a" stroke-width="0.6"/>
<text x="324.60" y="118.70" font-size="5.8" text-anchor="middle" font-weight="normal" fill="#0a0a0a">Overall survival (months)</text>
<text x="271.00" y="64.50" font-size="5.8" text-anchor="middle" font-weight="normal" fill="#0a0a0a" transform="rotate(-90 271.0 64.5)">Overall survival rate (%)</text>
<path d="M284.90,19.40 H285.15 V20.75 H285.92 V22.10 H286.68 V23.45 H287.30 V24.80 H287.52 V26.10 H287.77 V27.40 H288.28 V28.70 H288.64 V30.00 H288.90 V31.30 H289.28 V32.65 H289.53 V34.00 H289.75 V35.35 H289.87 V36.70 H290.41 V38.05 H290.60 V39.40 H290.94 V40.75 H291.52 V42.10 H291.96 V43.45 H292.27 V44.80 H292.83 V46.15 H293.00 V47.50 H293.60 V48.80 H294.29 V50.10 H294.69 V51.40 H295.06 V52.70 H296.30 V54.00 H296.92 V55.23 H297.40 V56.45 H297.65 V57.67 H297.90 V58.90 H298.88 V60.27 H299.89 V61.63 H301.10 V63.00 H302.47 V64.20 H304.40 V65.40 H306.04 V66.50 H306.38 V67.60 H306.80 V68.70 H307.10 V69.87 H307.97 V71.03 H308.50 V72.20 H342.40" fill="none" stroke="#e58d8b" stroke-width="0.8"/>
<line x1="295.59" y1="51.80" x2="295.59" y2="53.60" stroke="#b86a6a" stroke-width="0.55"/>
<line x1="302.31" y1="62.10" x2="302.31" y2="63.90" stroke="#b86a6a" stroke-width="0.55"/>
<line x1="331.41" y1="71.30" x2="331.41" y2="73.10" stroke="#b86a6a" stroke-width="0.55"/>
<line x1="316.05" y1="71.30" x2="316.05" y2="73.10" stroke="#b86a6a" stroke-width="0.55"/>
<line x1="288.99" y1="30.40" x2="288.99" y2="32.20" stroke="#b86a6a" stroke-width="0.55"/>
<line x1="310.73" y1="71.30" x2="310.73" y2="73.10" stroke="#b86a6a" stroke-width="0.55"/>
<line x1="308.00" y1="70.13" x2="308.00" y2="71.93" stroke="#b86a6a" stroke-width="0.55"/>
<line x1="338.43" y1="71.30" x2="338.43" y2="73.10" stroke="#b86a6a" stroke-width="0.55"/>
<path d="M284.90,19.40 H291.10 H291.56 V20.45 H293.00 V21.50 H294.65 V22.70 H295.40 V23.90 H296.76 V25.15 H297.10 V26.40 H298.50 V27.60 H300.30 V28.80 H300.56 V30.07 H300.81 V31.35 H300.90 V32.62 H301.10 V33.90 H309.30 V34.50 H310.90 V36.10 H316.60 V37.00 H317.48 V38.60 H318.20 V40.20 H319.00 V41.50 H328.30 V47.90 H337.30 V65.80 H360.90" fill="none" stroke="#4f88b5" stroke-width="0.8"/>
<line x1="312.20" y1="35.20" x2="312.20" y2="37.00" stroke="#34587a" stroke-width="0.55"/>
<line x1="331.12" y1="47.00" x2="331.12" y2="48.80" stroke="#34587a" stroke-width="0.55"/>
<line x1="308.36" y1="33.00" x2="308.36" y2="34.80" stroke="#34587a" stroke-width="0.55"/>
<line x1="300.08" y1="26.70" x2="300.08" y2="28.50" stroke="#34587a" stroke-width="0.55"/>
<line x1="333.81" y1="47.00" x2="333.81" y2="48.80" stroke="#34587a" stroke-width="0.55"/>
<line x1="321.23" y1="40.60" x2="321.23" y2="42.40" stroke="#34587a" stroke-width="0.55"/>
<line x1="317.77" y1="37.70" x2="317.77" y2="39.50" stroke="#34587a" stroke-width="0.55"/>
<line x1="312.22" y1="35.20" x2="312.22" y2="37.00" stroke="#34587a" stroke-width="0.55"/>
<line x1="325.69" y1="40.60" x2="325.69" y2="42.40" stroke="#34587a" stroke-width="0.55"/>
<line x1="308.13" y1="33.00" x2="308.13" y2="34.80" stroke="#34587a" stroke-width="0.55"/>
<line x1="320.26" y1="40.60" x2="320.26" y2="42.40" stroke="#34587a" stroke-width="0.55"/>
<line x1="347.84" y1="64.90" x2="347.84" y2="66.70" stroke="#34587a" stroke-width="0.55"/>
<line x1="300.94" y1="31.73" x2="300.94" y2="33.52" stroke="#34587a" stroke-width="0.55"/>
<line x1="335.68" y1="47.00" x2="335.68" y2="48.80" stroke="#34587a" stroke-width="0.55"/>
<line x1="320.55" y1="40.60" x2="320.55" y2="42.40" stroke="#34587a" stroke-width="0.55"/>
<line x1="359.00" y1="64.90" x2="359.00" y2="66.70" stroke="#34587a" stroke-width="0.55"/>
<line x1="350.55" y1="64.90" x2="350.55" y2="66.70" stroke="#34587a" stroke-width="0.55"/>
<line x1="296.14" y1="23.00" x2="296.14" y2="24.80" stroke="#34587a" stroke-width="0.55"/>
<line x1="351.44" y1="64.90" x2="351.44" y2="66.70" stroke="#34587a" stroke-width="0.55"/>
<line x1="349.11" y1="64.90" x2="349.11" y2="66.70" stroke="#34587a" stroke-width="0.55"/>
<line x1="285.15" y1="18.50" x2="285.15" y2="20.30" stroke="#34587a" stroke-width="0.55"/>
<line x1="291.38" y1="18.50" x2="291.38" y2="20.30" stroke="#34587a" stroke-width="0.55"/>
<text x="284.20" y="85.00" font-size="5.5" text-anchor="start" font-weight="normal" fill="#0a0a0a"><tspan font-style="italic">P</tspan> &lt; 0.0001</text>
<text x="284.20" y="93.70" font-size="5.5" text-anchor="start" font-weight="normal" fill="#0a0a0a">HR = 4.18</text>
<text x="284.20" y="102.30" font-size="5.5" text-anchor="start" font-weight="normal" fill="#0a0a0a">(95%CI:2.26–7.76)</text>
<line x1="362.00" y1="54.20" x2="365.60" y2="54.20" stroke="#4f88b5" stroke-width="0.9"/>
<text x="367.70" y="54.00" font-size="5.6" text-anchor="start" font-weight="normal" fill="#0a0a0a">Low risk</text>
<text x="367.70" y="60.40" font-size="5.6" text-anchor="start" font-weight="normal" fill="#0a0a0a">(n = 78)</text>
<line x1="362.00" y1="69.90" x2="365.60" y2="69.90" stroke="#e58d8b" stroke-width="0.9"/>
<text x="367.70" y="69.70" font-size="5.6" text-anchor="start" font-weight="normal" fill="#0a0a0a">High risk</text>
<text x="367.70" y="76.10" font-size="5.6" text-anchor="start" font-weight="normal" fill="#0a0a0a">(n = 79)</text>
<text x="137.20" y="144.30" font-size="9.3" text-anchor="start" font-weight="bold" fill="#000">D</text>
<text x="199.50" y="149.60" font-size="5.6" text-anchor="middle" font-weight="normal" fill="#0a0a0a">Gender: male (n = 236)</text>
<line x1="157.00" y1="153.50" x2="157.00" y2="241.80" stroke="#9a9a9a" stroke-width="0.7"/>
<line x1="157.00" y1="241.80" x2="239.00" y2="241.80" stroke="#9a9a9a" stroke-width="0.7"/>
<text x="155.00" y="239.80" font-size="5.6" text-anchor="end" font-weight="normal" fill="#0a0a0a">0</text>
<line x1="155.70" y1="237.80" x2="157.00" y2="237.80" stroke="#9a9a9a" stroke-width="0.6"/>
<text x="155.00" y="219.28" font-size="5.6" text-anchor="end" font-weight="normal" fill="#0a0a0a">25</text>
<line x1="155.70" y1="217.28" x2="157.00" y2="217.28" stroke="#9a9a9a" stroke-width="0.6"/>
<text x="155.00" y="198.75" font-size="5.6" text-anchor="end" font-weight="normal" fill="#0a0a0a">50</text>
<line x1="155.70" y1="196.75" x2="157.00" y2="196.75" stroke="#9a9a9a" stroke-width="0.6"/>
<text x="155.00" y="178.22" font-size="5.6" text-anchor="end" font-weight="normal" fill="#0a0a0a">75</text>
<line x1="155.70" y1="176.22" x2="157.00" y2="176.22" stroke="#9a9a9a" stroke-width="0.6"/>
<text x="155.00" y="157.70" font-size="5.6" text-anchor="end" font-weight="normal" fill="#0a0a0a">100</text>
<line x1="155.70" y1="155.70" x2="157.00" y2="155.70" stroke="#9a9a9a" stroke-width="0.6"/>
<text x="159.90" y="248.20" font-size="5.6" text-anchor="middle" font-weight="normal" fill="#0a0a0a">0</text>
<line x1="159.90" y1="241.80" x2="159.90" y2="243.10" stroke="#9a9a9a" stroke-width="0.6"/>
<text x="178.20" y="248.20" font-size="5.6" text-anchor="middle" font-weight="normal" fill="#0a0a0a">30</text>
<line x1="178.20" y1="241.80" x2="178.20" y2="243.10" stroke="#9a9a9a" stroke-width="0.6"/>
<text x="196.50" y="248.20" font-size="5.6" text-anchor="middle" font-weight="normal" fill="#0a0a0a">60</text>
<line x1="196.50" y1="241.80" x2="196.50" y2="243.10" stroke="#9a9a9a" stroke-width="0.6"/>
<text x="214.80" y="248.20" font-size="5.6" text-anchor="middle" font-weight="normal" fill="#0a0a0a">90</text>
<line x1="214.80" y1="241.80" x2="214.80" y2="243.10" stroke="#9a9a9a" stroke-width="0.6"/>
<text x="233.10" y="248.20" font-size="5.6" text-anchor="middle" font-weight="normal" fill="#0a0a0a">120</text>
<line x1="233.10" y1="241.80" x2="233.10" y2="243.10" stroke="#9a9a9a" stroke-width="0.6"/>
<text x="199.10" y="255.30" font-size="5.8" text-anchor="middle" font-weight="normal" fill="#0a0a0a">Overall survival (months)</text>
<text x="146.80" y="198.30" font-size="5.8" text-anchor="middle" font-weight="normal" fill="#0a0a0a" transform="rotate(-90 146.8 198.3)">Overall survival rate (%)</text>
<path d="M160.30,155.60 H160.94 V156.94 H161.14 V158.28 H161.45 V159.62 H161.93 V160.96 H162.10 V162.30 H162.50 V163.61 H162.60 V164.93 H162.78 V166.24 H163.17 V167.56 H163.63 V168.87 H163.88 V170.19 H164.40 V171.50 H164.90 V172.90 H165.11 V174.30 H165.29 V175.70 H165.77 V177.10 H166.18 V178.50 H166.70 V179.90 H166.89 V181.28 H167.43 V182.66 H167.86 V184.04 H168.35 V185.42 H169.00 V186.80 H171.30 V187.60 H171.66 V188.87 H172.73 V190.13 H173.60 V191.40 H174.58 V192.75 H175.41 V194.10 H176.30 V195.45 H177.50 V196.80 H181.30 V197.50 H182.41 V198.65 H183.09 V199.80 H183.83 V200.95 H184.40 V202.10 H185.00 H185.67 V203.60 H185.94 V205.10 H186.60 V206.60 H186.90 V208.00 H187.80 V209.40 H188.30 V210.80 V214.60 H196.60 V220.20 H211.60 V238.20" fill="none" stroke="#e58d8b" stroke-width="0.8"/>
<line x1="167.78" y1="181.76" x2="167.78" y2="183.56" stroke="#b86a6a" stroke-width="0.55"/>
<line x1="210.65" y1="219.30" x2="210.65" y2="221.10" stroke="#b86a6a" stroke-width="0.55"/>
<line x1="168.20" y1="183.14" x2="168.20" y2="184.94" stroke="#b86a6a" stroke-width="0.55"/>
<line x1="170.12" y1="185.90" x2="170.12" y2="187.70" stroke="#b86a6a" stroke-width="0.55"/>
<line x1="188.91" y1="213.70" x2="188.91" y2="215.50" stroke="#b86a6a" stroke-width="0.55"/>
<line x1="194.02" y1="213.70" x2="194.02" y2="215.50" stroke="#b86a6a" stroke-width="0.55"/>
<line x1="174.05" y1="190.50" x2="174.05" y2="192.30" stroke="#b86a6a" stroke-width="0.55"/>
<line x1="165.47" y1="174.80" x2="165.47" y2="176.60" stroke="#b86a6a" stroke-width="0.55"/>
<path d="M160.30,155.60 H165.20 V156.10 H167.51 V157.25 H169.80 V158.40 H171.76 V159.55 H172.90 V160.70 H174.10 V162.25 H175.20 V163.80 H176.71 V165.35 H177.50 V166.90 H189.00 V167.60 H189.70 V169.20 H192.80 H193.23 V170.52 H193.79 V171.85 H194.07 V173.18 H194.30 V174.50 H212.20 H212.21 V175.80 H212.23 V177.10 H212.25 V178.40 H212.27 V179.70 H212.30 V181.00 H212.31 V182.30 H212.34 V183.60 H212.37 V184.90 H212.38 V186.20 H212.40 V187.50 H234.90 H235.70 V188.30 H237.00" fill="none" stroke="#4f88b5" stroke-width="0.8"/>
<line x1="160.46" y1="154.70" x2="160.46" y2="156.50" stroke="#34587a" stroke-width="0.55"/>
<line x1="208.54" y1="173.60" x2="208.54" y2="175.40" stroke="#34587a" stroke-width="0.55"/>
<line x1="212.76" y1="186.60" x2="212.76" y2="188.40" stroke="#34587a" stroke-width="0.55"/>
<line x1="178.45" y1="166.00" x2="178.45" y2="167.80" stroke="#34587a" stroke-width="0.55"/>
<line x1="187.76" y1="166.00" x2="187.76" y2="167.80" stroke="#34587a" stroke-width="0.55"/>
<line x1="185.67" y1="166.00" x2="185.67" y2="167.80" stroke="#34587a" stroke-width="0.55"/>
<line x1="201.83" y1="173.60" x2="201.83" y2="175.40" stroke="#34587a" stroke-width="0.55"/>
<line x1="187.82" y1="166.00" x2="187.82" y2="167.80" stroke="#34587a" stroke-width="0.55"/>
<line x1="181.15" y1="166.00" x2="181.15" y2="167.80" stroke="#34587a" stroke-width="0.55"/>
<line x1="191.39" y1="168.30" x2="191.39" y2="170.10" stroke="#34587a" stroke-width="0.55"/>
<line x1="218.49" y1="186.60" x2="218.49" y2="188.40" stroke="#34587a" stroke-width="0.55"/>
<line x1="217.68" y1="186.60" x2="217.68" y2="188.40" stroke="#34587a" stroke-width="0.55"/>
<line x1="232.08" y1="186.60" x2="232.08" y2="188.40" stroke="#34587a" stroke-width="0.55"/>
<line x1="222.52" y1="186.60" x2="222.52" y2="188.40" stroke="#34587a" stroke-width="0.55"/>
<line x1="193.56" y1="169.62" x2="193.56" y2="171.42" stroke="#34587a" stroke-width="0.55"/>
<line x1="170.46" y1="157.50" x2="170.46" y2="159.30" stroke="#34587a" stroke-width="0.55"/>
<line x1="202.34" y1="173.60" x2="202.34" y2="175.40" stroke="#34587a" stroke-width="0.55"/>
<line x1="183.41" y1="166.00" x2="183.41" y2="167.80" stroke="#34587a" stroke-width="0.55"/>
<line x1="235.92" y1="187.40" x2="235.92" y2="189.20" stroke="#34587a" stroke-width="0.55"/>
<line x1="211.43" y1="173.60" x2="211.43" y2="175.40" stroke="#34587a" stroke-width="0.55"/>
<line x1="180.37" y1="166.00" x2="180.37" y2="167.80" stroke="#34587a" stroke-width="0.55"/>
<line x1="204.83" y1="173.60" x2="204.83" y2="175.40" stroke="#34587a" stroke-width="0.55"/>
<text x="159.00" y="221.00" font-size="5.5" text-anchor="start" font-weight="normal" fill="#0a0a0a"><tspan font-style="italic">P</tspan> &lt; 0.0001</text>
<text x="159.00" y="229.60" font-size="5.5" text-anchor="start" font-weight="normal" fill="#0a0a0a">HR = 6.56</text>
<text x="159.00" y="238.20" font-size="5.5" text-anchor="start" font-weight="normal" fill="#0a0a0a">(95%CI:3.70–11.61)</text>
<line x1="236.10" y1="190.90" x2="239.70" y2="190.90" stroke="#4f88b5" stroke-width="0.9"/>
<text x="242.10" y="190.70" font-size="5.6" text-anchor="start" font-weight="normal" fill="#0a0a0a">Low risk</text>
<text x="242.10" y="197.10" font-size="5.6" text-anchor="start" font-weight="normal" fill="#0a0a0a">(n = 118)</text>
<line x1="236.10" y1="207.30" x2="239.70" y2="207.30" stroke="#e58d8b" stroke-width="0.9"/>
<text x="242.10" y="207.10" font-size="5.6" text-anchor="start" font-weight="normal" fill="#0a0a0a">High risk</text>
<text x="242.10" y="213.50" font-size="5.6" text-anchor="start" font-weight="normal" fill="#0a0a0a">(n = 118)</text>
<text x="330.10" y="150.00" font-size="5.6" text-anchor="middle" font-weight="normal" fill="#0a0a0a">Gender: female (n = 110)</text>
<line x1="286.00" y1="153.50" x2="286.00" y2="241.90" stroke="#9a9a9a" stroke-width="0.7"/>
<line x1="286.00" y1="241.90" x2="366.00" y2="241.90" stroke="#9a9a9a" stroke-width="0.7"/>
<text x="284.00" y="239.00" font-size="5.6" text-anchor="end" font-weight="normal" fill="#0a0a0a">0</text>
<line x1="284.70" y1="237.00" x2="286.00" y2="237.00" stroke="#9a9a9a" stroke-width="0.6"/>
<text x="284.00" y="218.68" font-size="5.6" text-anchor="end" font-weight="normal" fill="#0a0a0a">25</text>
<line x1="284.70" y1="216.68" x2="286.00" y2="216.68" stroke="#9a9a9a" stroke-width="0.6"/>
<text x="284.00" y="198.35" font-size="5.6" text-anchor="end" font-weight="normal" fill="#0a0a0a">50</text>
<line x1="284.70" y1="196.35" x2="286.00" y2="196.35" stroke="#9a9a9a" stroke-width="0.6"/>
<text x="284.00" y="178.02" font-size="5.6" text-anchor="end" font-weight="normal" fill="#0a0a0a">75</text>
<line x1="284.70" y1="176.02" x2="286.00" y2="176.02" stroke="#9a9a9a" stroke-width="0.6"/>
<text x="284.00" y="157.70" font-size="5.6" text-anchor="end" font-weight="normal" fill="#0a0a0a">100</text>
<line x1="284.70" y1="155.70" x2="286.00" y2="155.70" stroke="#9a9a9a" stroke-width="0.6"/>
<text x="289.20" y="248.10" font-size="5.6" text-anchor="middle" font-weight="normal" fill="#0a0a0a">0</text>
<line x1="289.20" y1="241.90" x2="289.20" y2="243.20" stroke="#9a9a9a" stroke-width="0.6"/>
<text x="307.62" y="248.10" font-size="5.6" text-anchor="middle" font-weight="normal" fill="#0a0a0a">30</text>
<line x1="307.62" y1="241.90" x2="307.62" y2="243.20" stroke="#9a9a9a" stroke-width="0.6"/>
<text x="326.05" y="248.10" font-size="5.6" text-anchor="middle" font-weight="normal" fill="#0a0a0a">60</text>
<line x1="326.05" y1="241.90" x2="326.05" y2="243.20" stroke="#9a9a9a" stroke-width="0.6"/>
<text x="344.47" y="248.10" font-size="5.6" text-anchor="middle" font-weight="normal" fill="#0a0a0a">90</text>
<line x1="344.47" y1="241.90" x2="344.47" y2="243.20" stroke="#9a9a9a" stroke-width="0.6"/>
<text x="362.90" y="248.10" font-size="5.6" text-anchor="middle" font-weight="normal" fill="#0a0a0a">120</text>
<line x1="362.90" y1="241.90" x2="362.90" y2="243.20" stroke="#9a9a9a" stroke-width="0.6"/>
<text x="330.60" y="255.30" font-size="5.8" text-anchor="middle" font-weight="normal" fill="#0a0a0a">Overall survival (months)</text>
<text x="276.20" y="198.70" font-size="5.8" text-anchor="middle" font-weight="normal" fill="#0a0a0a" transform="rotate(-90 276.2 198.7)">Overall survival rate (%)</text>
<path d="M289.40,155.70 H289.54 V157.10 H289.96 V158.50 H290.47 V159.90 H290.60 V161.30 H291.73 V162.85 H292.50 V164.40 H292.83 V165.80 H293.69 V167.20 H294.43 V168.60 H295.00 V170.00 H295.81 V171.47 H296.86 V172.93 H297.50 V174.40 H298.55 V175.63 H299.23 V176.87 H300.60 V178.10 H301.39 V179.37 H301.99 V180.63 H303.10 V181.90 H304.47 V183.45 H305.00 V185.00 H306.78 V186.25 H308.10 V187.50 H309.47 V188.75 H310.00 V190.00 H310.87 V191.55 H312.50 V193.10 H314.28 V194.35 H315.60 V195.60 H317.80 V196.30 H318.13 V197.47 H318.36 V198.63 H318.50 V199.80 H319.49 V200.85 H320.60 V201.90 H321.14 V203.30 H321.30 V204.70 H322.54 V206.10 H324.80 V207.50 H326.52 V208.55 H327.70 V209.60 V215.20 H340.30 V223.00 H357.20 V230.70 H362.10" fill="none" stroke="#e58d8b" stroke-width="0.8"/>
<line x1="347.31" y1="222.10" x2="347.31" y2="223.90" stroke="#b86a6a" stroke-width="0.55"/>
<line x1="354.29" y1="222.10" x2="354.29" y2="223.90" stroke="#b86a6a" stroke-width="0.55"/>
<line x1="338.73" y1="214.30" x2="338.73" y2="216.10" stroke="#b86a6a" stroke-width="0.55"/>
<line x1="361.23" y1="229.80" x2="361.23" y2="231.60" stroke="#b86a6a" stroke-width="0.55"/>
<line x1="322.15" y1="203.80" x2="322.15" y2="205.60" stroke="#b86a6a" stroke-width="0.55"/>
<line x1="311.73" y1="190.65" x2="311.73" y2="192.45" stroke="#b86a6a" stroke-width="0.55"/>
<line x1="291.09" y1="160.40" x2="291.09" y2="162.20" stroke="#b86a6a" stroke-width="0.55"/>
<line x1="347.01" y1="222.10" x2="347.01" y2="223.90" stroke="#b86a6a" stroke-width="0.55"/>
<path d="M289.40,155.70 H291.15 V156.90 H291.90 V158.10 H295.00 V159.00 H296.14 V160.45 H296.90 V161.90 H300.60 V163.10 H300.82 V164.37 H301.04 V165.63 H301.30 V166.90 H301.89 V168.15 H302.17 V169.40 H302.67 V170.65 H303.10 V171.90 H304.00 V173.37 H304.65 V174.83 H305.60 V176.30 H306.47 V177.73 H307.11 V179.17 H308.10 V180.60 H308.48 V181.85 H309.40 V183.10 H312.50 V183.80 H312.97 V185.03 H313.70 V186.27 H314.40 V187.50 H315.00 V189.20 H320.60 H320.89 V190.60 H321.10 V192.00 H321.30 V193.40 H333.30 V206.10 H341.70 V214.50 H354.40 V226.50 H361.40" fill="none" stroke="#4f88b5" stroke-width="0.8"/>
<line x1="342.83" y1="213.60" x2="342.83" y2="215.40" stroke="#34587a" stroke-width="0.55"/>
<line x1="317.43" y1="188.30" x2="317.43" y2="190.10" stroke="#34587a" stroke-width="0.55"/>
<line x1="340.48" y1="205.20" x2="340.48" y2="207.00" stroke="#34587a" stroke-width="0.55"/>
<line x1="295.46" y1="158.10" x2="295.46" y2="159.90" stroke="#34587a" stroke-width="0.55"/>
<line x1="292.39" y1="157.20" x2="292.39" y2="159.00" stroke="#34587a" stroke-width="0.55"/>
<line x1="347.67" y1="213.60" x2="347.67" y2="215.40" stroke="#34587a" stroke-width="0.55"/>
<line x1="302.72" y1="169.75" x2="302.72" y2="171.55" stroke="#34587a" stroke-width="0.55"/>
<line x1="290.28" y1="154.80" x2="290.28" y2="156.60" stroke="#34587a" stroke-width="0.55"/>
<line x1="328.22" y1="192.50" x2="328.22" y2="194.30" stroke="#34587a" stroke-width="0.55"/>
<line x1="335.03" y1="205.20" x2="335.03" y2="207.00" stroke="#34587a" stroke-width="0.55"/>
<line x1="340.73" y1="205.20" x2="340.73" y2="207.00" stroke="#34587a" stroke-width="0.55"/>
<line x1="304.09" y1="172.47" x2="304.09" y2="174.27" stroke="#34587a" stroke-width="0.55"/>
<line x1="353.97" y1="213.60" x2="353.97" y2="215.40" stroke="#34587a" stroke-width="0.55"/>
<line x1="322.52" y1="192.50" x2="322.52" y2="194.30" stroke="#34587a" stroke-width="0.55"/>
<line x1="291.85" y1="156.00" x2="291.85" y2="157.80" stroke="#34587a" stroke-width="0.55"/>
<line x1="318.74" y1="188.30" x2="318.74" y2="190.10" stroke="#34587a" stroke-width="0.55"/>
<line x1="299.31" y1="161.00" x2="299.31" y2="162.80" stroke="#34587a" stroke-width="0.55"/>
<line x1="325.94" y1="192.50" x2="325.94" y2="194.30" stroke="#34587a" stroke-width="0.55"/>
<line x1="299.40" y1="161.00" x2="299.40" y2="162.80" stroke="#34587a" stroke-width="0.55"/>
<line x1="305.45" y1="173.93" x2="305.45" y2="175.73" stroke="#34587a" stroke-width="0.55"/>
<line x1="326.01" y1="192.50" x2="326.01" y2="194.30" stroke="#34587a" stroke-width="0.55"/>
<line x1="340.35" y1="205.20" x2="340.35" y2="207.00" stroke="#34587a" stroke-width="0.55"/>
<text x="288.50" y="223.50" font-size="5.5" text-anchor="start" font-weight="normal" fill="#0a0a0a"><tspan font-style="italic">P</tspan> = 0.13</text>
<text x="288.50" y="231.80" font-size="5.5" text-anchor="start" font-weight="normal" fill="#0a0a0a">HR = 1.55</text>
<text x="288.50" y="239.60" font-size="5.5" text-anchor="start" font-weight="normal" fill="#0a0a0a">(95%CI:0.88–2.74)</text>
<line x1="361.70" y1="192.10" x2="365.30" y2="192.10" stroke="#4f88b5" stroke-width="0.9"/>
<text x="367.90" y="191.90" font-size="5.6" text-anchor="start" font-weight="normal" fill="#0a0a0a">Low risk</text>
<text x="367.90" y="198.30" font-size="5.6" text-anchor="start" font-weight="normal" fill="#0a0a0a">(n = 55)</text>
<line x1="361.70" y1="208.40" x2="365.30" y2="208.40" stroke="#e58d8b" stroke-width="0.9"/>
<text x="367.90" y="208.20" font-size="5.6" text-anchor="start" font-weight="normal" fill="#0a0a0a">High risk</text>
<text x="367.90" y="214.60" font-size="5.6" text-anchor="start" font-weight="normal" fill="#0a0a0a">(n = 55)</text>
<text x="137.50" y="281.80" font-size="9.3" text-anchor="start" font-weight="bold" fill="#000">F</text>
<text x="195.70" y="287.10" font-size="5.6" text-anchor="middle" font-weight="normal" fill="#0a0a0a">T stage: T1-T2 (n = 255)</text>
<line x1="155.70" y1="289.40" x2="155.70" y2="377.60" stroke="#9a9a9a" stroke-width="0.7"/>
<line x1="155.70" y1="377.60" x2="237.00" y2="377.60" stroke="#9a9a9a" stroke-width="0.7"/>
<text x="153.70" y="376.30" font-size="5.6" text-anchor="end" font-weight="normal" fill="#0a0a0a">0</text>
<line x1="154.40" y1="374.30" x2="155.70" y2="374.30" stroke="#9a9a9a" stroke-width="0.6"/>
<text x="153.70" y="355.62" font-size="5.6" text-anchor="end" font-weight="normal" fill="#0a0a0a">25</text>
<line x1="154.40" y1="353.62" x2="155.70" y2="353.62" stroke="#9a9a9a" stroke-width="0.6"/>
<text x="153.70" y="334.95" font-size="5.6" text-anchor="end" font-weight="normal" fill="#0a0a0a">50</text>
<line x1="154.40" y1="332.95" x2="155.70" y2="332.95" stroke="#9a9a9a" stroke-width="0.6"/>
<text x="153.70" y="314.28" font-size="5.6" text-anchor="end" font-weight="normal" fill="#0a0a0a">75</text>
<line x1="154.40" y1="312.28" x2="155.70" y2="312.28" stroke="#9a9a9a" stroke-width="0.6"/>
<text x="153.70" y="293.60" font-size="5.6" text-anchor="end" font-weight="normal" fill="#0a0a0a">100</text>
<line x1="154.40" y1="291.60" x2="155.70" y2="291.60" stroke="#9a9a9a" stroke-width="0.6"/>
<text x="158.70" y="383.90" font-size="5.6" text-anchor="middle" font-weight="normal" fill="#0a0a0a">0</text>
<line x1="158.70" y1="377.60" x2="158.70" y2="378.90" stroke="#9a9a9a" stroke-width="0.6"/>
<text x="177.27" y="383.90" font-size="5.6" text-anchor="middle" font-weight="normal" fill="#0a0a0a">30</text>
<line x1="177.27" y1="377.60" x2="177.27" y2="378.90" stroke="#9a9a9a" stroke-width="0.6"/>
<text x="195.85" y="383.90" font-size="5.6" text-anchor="middle" font-weight="normal" fill="#0a0a0a">60</text>
<line x1="195.85" y1="377.60" x2="195.85" y2="378.90" stroke="#9a9a9a" stroke-width="0.6"/>
<text x="214.43" y="383.90" font-size="5.6" text-anchor="middle" font-weight="normal" fill="#0a0a0a">90</text>
<line x1="214.43" y1="377.60" x2="214.43" y2="378.90" stroke="#9a9a9a" stroke-width="0.6"/>
<text x="233.00" y="383.90" font-size="5.6" text-anchor="middle" font-weight="normal" fill="#0a0a0a">120</text>
<line x1="233.00" y1="377.60" x2="233.00" y2="378.90" stroke="#9a9a9a" stroke-width="0.6"/>
<text x="201.20" y="390.70" font-size="5.8" text-anchor="middle" font-weight="normal" fill="#0a0a0a">Overall survival (months)</text>
<text x="145.90" y="333.00" font-size="5.8" text-anchor="middle" font-weight="normal" fill="#0a0a0a" transform="rotate(-90 145.89999999999998 333.0)">Overall survival rate (%)</text>
<path d="M159.30,291.60 H159.89 V292.83 H160.17 V294.05 H160.50 V295.27 H161.10 V296.50 H162.57 V297.77 H163.35 V299.03 H164.20 V300.30 H165.07 V301.54 H165.78 V302.78 H166.37 V304.02 H166.55 V305.26 H167.30 V306.50 H168.20 V308.00 H168.80 V309.50 H169.89 V310.65 H170.51 V311.80 H171.59 V312.95 H172.60 V314.10 H174.15 V315.65 H176.50 V317.20 H178.75 V318.75 H179.50 V320.30 H180.82 V321.57 H181.56 V322.83 H182.60 V324.10 H183.36 V325.53 H184.40 V326.97 H184.90 V328.40 H185.97 V329.85 H186.40 V331.30 H186.70 V332.70 H186.92 V334.10 H187.23 V335.50 H187.52 V336.90 H187.80 V338.30 H194.10 V339.00 H195.11 V340.40 H195.50 V341.80 H195.84 V343.20 H197.01 V344.60 H197.70 V346.00 H209.60 V353.00 H227.20 V363.60 H231.40" fill="none" stroke="#e58d8b" stroke-width="0.8"/>
<line x1="223.30" y1="352.10" x2="223.30" y2="353.90" stroke="#b86a6a" stroke-width="0.55"/>
<line x1="229.99" y1="362.70" x2="229.99" y2="364.50" stroke="#b86a6a" stroke-width="0.55"/>
<line x1="199.94" y1="345.10" x2="199.94" y2="346.90" stroke="#b86a6a" stroke-width="0.55"/>
<line x1="198.27" y1="345.10" x2="198.27" y2="346.90" stroke="#b86a6a" stroke-width="0.55"/>
<line x1="172.22" y1="312.05" x2="172.22" y2="313.85" stroke="#b86a6a" stroke-width="0.55"/>
<line x1="199.72" y1="345.10" x2="199.72" y2="346.90" stroke="#b86a6a" stroke-width="0.55"/>
<line x1="176.23" y1="314.75" x2="176.23" y2="316.55" stroke="#b86a6a" stroke-width="0.55"/>
<line x1="207.84" y1="345.10" x2="207.84" y2="346.90" stroke="#b86a6a" stroke-width="0.55"/>
<path d="M159.30,291.60 H162.70 V292.70 H165.70 V294.20 H167.01 V295.75 H168.80 V297.30 H169.87 V298.80 H171.90 V300.30 H173.48 V301.45 H174.90 V302.60 H176.50 V304.20 H190.30 H191.21 V305.35 H191.80 V306.50 H192.65 V308.00 H194.10 V309.50 H202.50 V310.30 H202.72 V311.52 H202.89 V312.74 H202.99 V313.96 H203.21 V315.18 H203.30 V316.40 H211.00 V328.20 H231.40" fill="none" stroke="#4f88b5" stroke-width="0.8"/>
<line x1="181.25" y1="303.30" x2="181.25" y2="305.10" stroke="#34587a" stroke-width="0.55"/>
<line x1="161.44" y1="290.70" x2="161.44" y2="292.50" stroke="#34587a" stroke-width="0.55"/>
<line x1="216.84" y1="327.30" x2="216.84" y2="329.10" stroke="#34587a" stroke-width="0.55"/>
<line x1="205.71" y1="315.50" x2="205.71" y2="317.30" stroke="#34587a" stroke-width="0.55"/>
<line x1="196.88" y1="308.60" x2="196.88" y2="310.40" stroke="#34587a" stroke-width="0.55"/>
<line x1="226.46" y1="327.30" x2="226.46" y2="329.10" stroke="#34587a" stroke-width="0.55"/>
<line x1="219.74" y1="327.30" x2="219.74" y2="329.10" stroke="#34587a" stroke-width="0.55"/>
<line x1="167.85" y1="294.85" x2="167.85" y2="296.65" stroke="#34587a" stroke-width="0.55"/>
<line x1="172.90" y1="299.40" x2="172.90" y2="301.20" stroke="#34587a" stroke-width="0.55"/>
<line x1="214.51" y1="327.30" x2="214.51" y2="329.10" stroke="#34587a" stroke-width="0.55"/>
<line x1="211.57" y1="327.30" x2="211.57" y2="329.10" stroke="#34587a" stroke-width="0.55"/>
<line x1="230.48" y1="327.30" x2="230.48" y2="329.10" stroke="#34587a" stroke-width="0.55"/>
<line x1="209.57" y1="315.50" x2="209.57" y2="317.30" stroke="#34587a" stroke-width="0.55"/>
<line x1="178.69" y1="303.30" x2="178.69" y2="305.10" stroke="#34587a" stroke-width="0.55"/>
<line x1="220.83" y1="327.30" x2="220.83" y2="329.10" stroke="#34587a" stroke-width="0.55"/>
<line x1="191.13" y1="303.30" x2="191.13" y2="305.10" stroke="#34587a" stroke-width="0.55"/>
<line x1="166.43" y1="293.30" x2="166.43" y2="295.10" stroke="#34587a" stroke-width="0.55"/>
<line x1="162.03" y1="290.70" x2="162.03" y2="292.50" stroke="#34587a" stroke-width="0.55"/>
<line x1="210.31" y1="315.50" x2="210.31" y2="317.30" stroke="#34587a" stroke-width="0.55"/>
<line x1="195.01" y1="308.60" x2="195.01" y2="310.40" stroke="#34587a" stroke-width="0.55"/>
<line x1="212.16" y1="327.30" x2="212.16" y2="329.10" stroke="#34587a" stroke-width="0.55"/>
<line x1="208.75" y1="315.50" x2="208.75" y2="317.30" stroke="#34587a" stroke-width="0.55"/>
<text x="158.60" y="358.00" font-size="5.5" text-anchor="start" font-weight="normal" fill="#0a0a0a"><tspan font-style="italic">P</tspan> &lt; 0.0001</text>
<text x="158.60" y="365.80" font-size="5.5" text-anchor="start" font-weight="normal" fill="#0a0a0a">HR = 3.17</text>
<text x="158.60" y="374.00" font-size="5.5" text-anchor="start" font-weight="normal" fill="#0a0a0a">(95%CI:1.88–5.34)</text>
<line x1="230.70" y1="319.90" x2="234.30" y2="319.90" stroke="#4f88b5" stroke-width="0.9"/>
<text x="237.00" y="319.70" font-size="5.6" text-anchor="start" font-weight="normal" fill="#0a0a0a">Low risk</text>
<text x="237.00" y="326.10" font-size="5.6" text-anchor="start" font-weight="normal" fill="#0a0a0a">(n = 127)</text>
<line x1="230.70" y1="336.00" x2="234.30" y2="336.00" stroke="#e58d8b" stroke-width="0.9"/>
<text x="237.00" y="335.80" font-size="5.6" text-anchor="start" font-weight="normal" fill="#0a0a0a">High risk</text>
<text x="237.00" y="342.20" font-size="5.6" text-anchor="start" font-weight="normal" fill="#0a0a0a">(n = 128)</text>
<text x="327.20" y="286.00" font-size="5.6" text-anchor="middle" font-weight="normal" fill="#0a0a0a">T stage: T3-T4 (n = 88)</text>
<line x1="282.60" y1="288.20" x2="282.60" y2="375.70" stroke="#9a9a9a" stroke-width="0.7"/>
<line x1="282.60" y1="375.70" x2="361.50" y2="375.70" stroke="#9a9a9a" stroke-width="0.7"/>
<text x="280.60" y="374.00" font-size="5.6" text-anchor="end" font-weight="normal" fill="#0a0a0a">0</text>
<line x1="281.30" y1="372.00" x2="282.60" y2="372.00" stroke="#9a9a9a" stroke-width="0.6"/>
<text x="280.60" y="353.60" font-size="5.6" text-anchor="end" font-weight="normal" fill="#0a0a0a">25</text>
<line x1="281.30" y1="351.60" x2="282.60" y2="351.60" stroke="#9a9a9a" stroke-width="0.6"/>
<text x="280.60" y="333.20" font-size="5.6" text-anchor="end" font-weight="normal" fill="#0a0a0a">50</text>
<line x1="281.30" y1="331.20" x2="282.60" y2="331.20" stroke="#9a9a9a" stroke-width="0.6"/>
<text x="280.60" y="312.80" font-size="5.6" text-anchor="end" font-weight="normal" fill="#0a0a0a">75</text>
<line x1="281.30" y1="310.80" x2="282.60" y2="310.80" stroke="#9a9a9a" stroke-width="0.6"/>
<text x="280.60" y="292.40" font-size="5.6" text-anchor="end" font-weight="normal" fill="#0a0a0a">100</text>
<line x1="281.30" y1="290.40" x2="282.60" y2="290.40" stroke="#9a9a9a" stroke-width="0.6"/>
<text x="286.20" y="381.70" font-size="5.6" text-anchor="middle" font-weight="normal" fill="#0a0a0a">0</text>
<line x1="286.20" y1="375.70" x2="286.20" y2="377.00" stroke="#9a9a9a" stroke-width="0.6"/>
<text x="304.25" y="381.70" font-size="5.6" text-anchor="middle" font-weight="normal" fill="#0a0a0a">30</text>
<line x1="304.25" y1="375.70" x2="304.25" y2="377.00" stroke="#9a9a9a" stroke-width="0.6"/>
<text x="322.30" y="381.70" font-size="5.6" text-anchor="middle" font-weight="normal" fill="#0a0a0a">60</text>
<line x1="322.30" y1="375.70" x2="322.30" y2="377.00" stroke="#9a9a9a" stroke-width="0.6"/>
<text x="340.35" y="381.70" font-size="5.6" text-anchor="middle" font-weight="normal" fill="#0a0a0a">90</text>
<line x1="340.35" y1="375.70" x2="340.35" y2="377.00" stroke="#9a9a9a" stroke-width="0.6"/>
<text x="358.40" y="381.70" font-size="5.6" text-anchor="middle" font-weight="normal" fill="#0a0a0a">120</text>
<line x1="358.40" y1="375.70" x2="358.40" y2="377.00" stroke="#9a9a9a" stroke-width="0.6"/>
<text x="327.50" y="388.70" font-size="5.8" text-anchor="middle" font-weight="normal" fill="#0a0a0a">Overall survival (months)</text>
<text x="272.00" y="328.00" font-size="5.8" text-anchor="middle" font-weight="normal" fill="#0a0a0a" transform="rotate(-90 272.0 328.0)">Overall survival rate (%)</text>
<path d="M286.30,290.20 H286.41 V291.50 H286.65 V292.80 H287.11 V294.10 H287.29 V295.40 H287.50 V296.70 H287.90 V298.00 H288.25 V299.35 H288.47 V300.70 H288.84 V302.05 H289.16 V303.40 H289.39 V304.75 H289.50 V306.10 H289.71 V307.33 H289.95 V308.55 H290.02 V309.77 H290.10 V311.00 H290.49 V312.23 H290.61 V313.45 H290.97 V314.67 H291.10 V315.90 H291.39 V317.12 H291.70 V318.35 H292.03 V319.57 H292.33 V320.80 H292.48 V322.02 H292.54 V323.25 H292.72 V324.47 H292.80 V325.70 H293.01 V327.05 H293.27 V328.40 H293.42 V329.75 H293.71 V331.10 H294.13 V332.45 H294.40 V333.80 H294.82 V335.23 H295.32 V336.65 H295.46 V338.07 H296.00 V339.50 H296.99 V341.10 H299.30 V342.70 H300.05 V343.80 H300.21 V344.90 H300.90 V346.00 H302.57 V347.60 H303.30 V349.20 H317.00 V355.00 H338.20 V374.90" fill="none" stroke="#e58d8b" stroke-width="0.8"/>
<line x1="335.69" y1="354.10" x2="335.69" y2="355.90" stroke="#b86a6a" stroke-width="0.55"/>
<line x1="325.77" y1="354.10" x2="325.77" y2="355.90" stroke="#b86a6a" stroke-width="0.55"/>
<line x1="286.99" y1="291.90" x2="286.99" y2="293.70" stroke="#b86a6a" stroke-width="0.55"/>
<line x1="323.67" y1="354.10" x2="323.67" y2="355.90" stroke="#b86a6a" stroke-width="0.55"/>
<line x1="302.84" y1="346.70" x2="302.84" y2="348.50" stroke="#b86a6a" stroke-width="0.55"/>
<line x1="286.86" y1="291.90" x2="286.86" y2="293.70" stroke="#b86a6a" stroke-width="0.55"/>
<line x1="289.52" y1="305.20" x2="289.52" y2="307.00" stroke="#b86a6a" stroke-width="0.55"/>
<line x1="296.36" y1="338.60" x2="296.36" y2="340.40" stroke="#b86a6a" stroke-width="0.55"/>
<path d="M286.30,290.20 H290.30 H290.80 V291.35 H291.32 V292.50 H291.47 V293.65 H291.90 V294.80 H292.50 V296.20 H292.75 V297.60 H293.32 V299.00 H293.60 V300.40 H297.60 V301.30 H297.74 V302.60 H297.81 V303.90 H298.02 V305.20 H298.21 V306.50 H298.40 V307.80 H298.94 V309.15 H299.24 V310.50 H299.79 V311.85 H300.15 V313.20 H300.72 V314.55 H300.90 V315.90 H301.12 V317.20 H301.74 V318.50 H301.99 V319.80 H302.69 V321.10 H303.30 V322.40 H303.49 V323.82 H303.73 V325.25 H303.85 V326.68 H304.10 V328.10 H305.36 V329.70 H305.80 V331.30 H311.50 V332.20 H311.78 V333.80 H312.30 V335.40 H316.30 V337.00 H316.77 V338.37 H317.54 V339.73 H318.00 V341.10 H320.40 V342.70 H321.11 V343.80 H321.46 V344.90 H322.00 V346.00 H324.50 V347.80 H339.10 H339.13 V349.13 H339.25 V350.47 H339.37 V351.80 H339.50 V353.13 H339.54 V354.47 H339.60 V355.80 H352.40 V364.10 H360.70" fill="none" stroke="#4f88b5" stroke-width="0.8"/>
<line x1="351.59" y1="354.90" x2="351.59" y2="356.70" stroke="#34587a" stroke-width="0.55"/>
<line x1="326.88" y1="346.90" x2="326.88" y2="348.70" stroke="#34587a" stroke-width="0.55"/>
<line x1="321.12" y1="342.90" x2="321.12" y2="344.70" stroke="#34587a" stroke-width="0.55"/>
<line x1="333.34" y1="346.90" x2="333.34" y2="348.70" stroke="#34587a" stroke-width="0.55"/>
<line x1="332.41" y1="346.90" x2="332.41" y2="348.70" stroke="#34587a" stroke-width="0.55"/>
<line x1="296.40" y1="299.50" x2="296.40" y2="301.30" stroke="#34587a" stroke-width="0.55"/>
<line x1="358.74" y1="363.20" x2="358.74" y2="365.00" stroke="#34587a" stroke-width="0.55"/>
<line x1="288.43" y1="289.30" x2="288.43" y2="291.10" stroke="#34587a" stroke-width="0.55"/>
<line x1="300.94" y1="315.00" x2="300.94" y2="316.80" stroke="#34587a" stroke-width="0.55"/>
<line x1="348.57" y1="354.90" x2="348.57" y2="356.70" stroke="#34587a" stroke-width="0.55"/>
<line x1="291.58" y1="292.75" x2="291.58" y2="294.55" stroke="#34587a" stroke-width="0.55"/>
<line x1="322.87" y1="345.10" x2="322.87" y2="346.90" stroke="#34587a" stroke-width="0.55"/>
<line x1="343.40" y1="354.90" x2="343.40" y2="356.70" stroke="#34587a" stroke-width="0.55"/>
<line x1="296.88" y1="299.50" x2="296.88" y2="301.30" stroke="#34587a" stroke-width="0.55"/>
<line x1="344.31" y1="354.90" x2="344.31" y2="356.70" stroke="#34587a" stroke-width="0.55"/>
<line x1="317.49" y1="337.47" x2="317.49" y2="339.27" stroke="#34587a" stroke-width="0.55"/>
<line x1="314.16" y1="334.50" x2="314.16" y2="336.30" stroke="#34587a" stroke-width="0.55"/>
<line x1="325.15" y1="346.90" x2="325.15" y2="348.70" stroke="#34587a" stroke-width="0.55"/>
<line x1="303.33" y1="321.50" x2="303.33" y2="323.30" stroke="#34587a" stroke-width="0.55"/>
<line x1="308.85" y1="330.40" x2="308.85" y2="332.20" stroke="#34587a" stroke-width="0.55"/>
<line x1="357.35" y1="363.20" x2="357.35" y2="365.00" stroke="#34587a" stroke-width="0.55"/>
<line x1="345.94" y1="354.90" x2="345.94" y2="356.70" stroke="#34587a" stroke-width="0.55"/>
<text x="283.50" y="356.50" font-size="5.5" text-anchor="start" font-weight="normal" fill="#0a0a0a"><tspan font-style="italic">P</tspan> = 0.00055</text>
<text x="283.50" y="364.20" font-size="5.5" text-anchor="start" font-weight="normal" fill="#0a0a0a">HR = 2.63</text>
<text x="283.50" y="371.60" font-size="5.5" text-anchor="start" font-weight="normal" fill="#0a0a0a">(95%CI:1.49–4.65)</text>
<line x1="360.00" y1="317.30" x2="363.60" y2="317.30" stroke="#4f88b5" stroke-width="0.9"/>
<text x="365.90" y="317.10" font-size="5.6" text-anchor="start" font-weight="normal" fill="#0a0a0a">Low risk</text>
<text x="365.90" y="323.50" font-size="5.6" text-anchor="start" font-weight="normal" fill="#0a0a0a">(n = 44)</text>
<line x1="360.00" y1="333.90" x2="363.60" y2="333.90" stroke="#e58d8b" stroke-width="0.9"/>
<text x="365.90" y="333.70" font-size="5.6" text-anchor="start" font-weight="normal" fill="#0a0a0a">High risk</text>
<text x="365.90" y="340.10" font-size="5.6" text-anchor="start" font-weight="normal" fill="#0a0a0a">(n = 44)</text>
</svg></body></html>
